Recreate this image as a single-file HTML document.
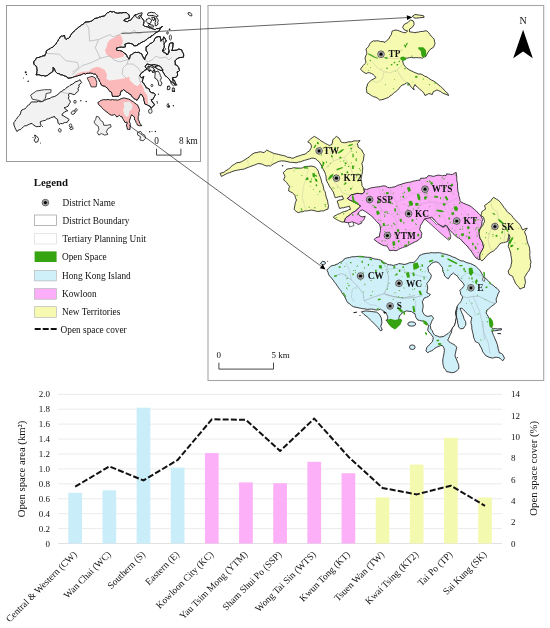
<!DOCTYPE html>
<html><head><meta charset="utf-8"><title>Open space by district</title>
<style>
html,body{margin:0;padding:0;background:#fff;}
svg{display:block;}
text{font-family:"Liberation Serif",serif;fill:#111;}
</style></head><body>
<svg width="550" height="628" viewBox="0 0 550 628">
<rect width="550" height="628" fill="#fff"/>
<g id="inset">
<rect x="6.5" y="5.5" width="194" height="156" fill="#fff" stroke="#999" stroke-width="1"/>
<path d="M36.03,74.95 L36.86,72.93 L36.8,71.7 L37.15,70.61 L36.79,68.43 L36.78,67.53 L35.94,65.8 L34.87,65.22 L33.89,64.15 L33.8,61.93 L33.93,61.07 L35.84,59.55 L36.12,58.22 L37.28,57.61 L39.04,57.46 L40.18,56.78 L41.52,56.59 L42.94,55.74 L44.84,55.86 L45.27,54.06 L46.24,53.31 L46,51.36 L47.22,50.31 L48.8,49.21 L50.06,48.64 L50.9,47.74 L52.85,47.18 L53.84,46.11 L54.73,44.94 L56.31,43.75 L56.51,42.52 L57.85,41.27 L58.34,39.67 L59.29,38.65 L60.12,36.89 L61.46,36 L62.38,36.14 L64.68,35.49 L64.63,36.44 L65.27,38.62 L66.07,39.54 L67.53,38.4 L68.55,38.29 L69.98,36.96 L70.5,35.41 L72.02,33.24 L72.68,32.42 L74.09,31.36 L75.31,30.16 L76.36,29.09 L77.16,28.55 L78.97,26.9 L80.22,26.2 L81.4,25.09 L82.9,24.38 L84.29,23.24 L85.03,22.03 L86.8,21.96 L89.11,21.75 L90.67,21.34 L91.76,20.94 L93.81,19.38 L94.78,18.51 L97.16,17.95 L97.88,17.91 L99.48,16.94 L100.66,16.98 L102.03,16.31 L103.94,16.07 L104.92,15.67 L105.82,14.24 L107.42,12.69 L108.36,12.65 L110.01,11.21 L112.11,12.07 L113.52,11.52 L115.65,12.72 L117.66,13.2 L120.18,12.79 L121.72,12.98 L123.8,12.52 L124.72,12.65 L126.39,12.58 L127.82,13.88 L129.06,14.8 L129.47,17.88 L127.47,18.36 L126.14,18.94 L125.24,18.92 L123.75,20.51 L126.38,21.54 L127.65,21.8 L128.74,20.34 L130.37,20.47 L131.7,18.76 L132.88,17.35 L133.71,16.42 L134.93,14.69 L136.6,14.92 L138.8,14.5 L140.83,13.87 L141.4,14.77 L140.7,16.83 L142.39,18.38 L142.64,18.91 L143.87,20.64 L143.97,21.58 L143.75,23.35 L143.18,25.09 L144.28,25.93 L145.48,26.47 L147.69,26.94 L148.91,27.75 L150.37,27.94 L151.24,28.29 L153.2,28.94 L154.72,29.55 L155.34,29.55 L156.62,28.46 L157.91,28.71 L159.95,28.09 L160.82,27.3 L162.58,26.48 L161.42,27.42 L159.98,28.57 L159.84,29.96 L158.93,30.96 L156.98,32.25 L156.23,32.45 L154.77,33.49 L152.78,35.39 L151.27,35.84 L150.79,37.12 L148.45,37.77 L147.11,39.24 L145.5,40.31 L144.31,41.27 L143.38,41.49 L141.25,42.58 L139.67,43.69 L138.17,43.98 L137.68,45.2 L135.95,45.75 L134.31,45.76 L133.78,45.77 L132.7,44.01 L130.82,43.62 L129.88,43.29 L127.89,43.16 L126.11,43.79 L124.81,44.25 L125.58,46.78 L124.82,47.01 L122.82,47.28 L121.44,47.09 L119.27,47.23 L117.75,47.95 L116.79,47.6 L116.23,50.04 L118.11,50.56 L119.41,50.45 L121.04,50.97 L122.98,51.77 L124.14,53.14 L125.99,54.09 L126.79,55.61 L127.05,56.7 L128.29,57.73 L129.05,59.27 L129.44,58.72 L130.05,56.69 L129.91,55.51 L132.17,54.24 L133.59,53.04 L135.31,52.28 L136.42,52.5 L138.6,52.31 L140.24,53.25 L141.69,53.78 L142.13,55.11 L143.11,56.97 L143.35,57.71 L144.76,59.81 L144.9,57.94 L145.75,56.25 L146.65,54.74 L147.86,53.02 L147.15,52.07 L145.97,50.36 L146.05,48.54 L146.13,46.76 L148.18,45.8 L149.1,44.91 L150.2,43.41 L151.76,43 L153.15,42.04 L154.09,40.86 L154.54,39.16 L155.68,37.43 L157.01,36.96 L158.91,36.52 L160.38,36.75 L160.35,37.64 L161.01,39.91 L160.86,41.27 L162.48,39.35 L163.19,38.42 L163.77,36.8 L164.87,38.16 L165.72,39.93 L166.56,41.07 L164.18,42.95 L164.02,44.7 L164.36,45.62 L164.08,47.72 L163.2,49.17 L162.46,51.03 L163.69,52.38 L165.81,53.13 L167.47,55.01 L168.71,52.34 L169.08,51.14 L168.79,49.57 L168.41,48.36 L168.77,46.38 L169.34,45.13 L169.43,43.73 L170.13,43.01 L173.06,42.82 L173,45.01 L172.82,46.8 L172.4,49.15 L171.6,50.49 L174.74,50.32 L176.83,50.11 L178.94,48.91 L180.03,49.49 L181.67,49.79 L182.2,51.53 L183.29,53.31 L183.72,54.95 L183.49,57.16 L181.07,57.47 L179.03,57.73 L177.11,58.81 L175.77,59.8 L174.85,61.06 L175.36,63.02 L175.04,64.5 L176.82,65.36 L178.1,66.46 L178.66,67.47 L179.11,69.28 L179.5,70.6 L178.63,71.43 L176.99,71.95 L177.43,73.15 L177.6,74.88 L176.85,76.58 L175.73,77.31 L174.24,77.51 L172.43,77.71 L173.14,79.64 L173.51,80.17 L174.55,82 L175.03,82.94 L175.79,84.83 L174.46,84.71 L173.28,84.03 L172.5,82.95 L170.99,81.85 L170.04,80.4 L168.93,78.81 L167.83,77.93 L167.04,76.98 L164.85,75.37 L163.97,73.56 L162.65,71.56 L162.21,70.82 L161.24,68.75 L160.18,68.53 L158.47,67.55 L157.96,66.89 L157.32,65.16 L155.36,65.92 L153.86,66.3 L152.69,65.2 L151.04,65.1 L148.91,64.41 L146.89,63.97 L144.97,66.73 L146.22,67.62 L147.01,69.34 L144.47,70.35 L143.66,71.62 L141.87,72.51 L140.73,74.06 L139.57,75.89 L141.37,77.63 L142.07,77.46 L143.91,76.54 L142.73,79.3 L142.77,80.07 L142.03,81.86 L143.49,82.94 L144.43,84.57 L145.57,86.19 L146.31,87.83 L147.66,88.21 L149.23,88.94 L149.64,90.87 L150.66,92.25 L151.89,92.77 L153.72,92.91 L155.31,94.6 L154.89,95.95 L153.79,97.56 L152.85,99.49 L151.12,99.73 L152.7,102.71 L154.01,103.56 L154.44,104.84 L152.62,106.89 L151,108.3 L150.5,106.68 L147.87,105.23 L147.52,104.96 L144.78,103.91 L144.51,101.98 L143.99,100.51 L143.86,98.01 L143.13,97.19 L142.12,95.08 L140.68,94.02 L139.7,95.58 L139.26,96.45 L138.61,97.97 L137.05,100.26 L135.31,99.18 L133.73,98.46 L133.34,97.81 L131.44,95.86 L131.14,94.74 L129.21,93.72 L127.66,92.53 L126.84,92.14 L125.29,91.05 L123.66,89.39 L122.38,90.77 L121.14,90.84 L120.16,93.59 L120.29,95.05 L118.66,96.06 L116.92,96.36 L114.7,96.31 L112.5,96.38 L112.19,94.8 L111.95,93.51 L111.42,92.15 L109.85,91.28 L108.65,90.12 L108.25,88.95 L105.8,86.99 L104.91,86.17 L102.87,85.83 L100.94,84.53 L100.49,82.53 L99.6,81.51 L98.88,79.17 L97.32,77.59 L97.2,75.94 L96.03,74.58 L95.37,73.98 L93.4,73.93 L92.71,73.46 L90.2,72.92 L88.5,73.26 L86.93,73.24 L85.73,74.06 L83.88,73.4 L82.33,74.17 L81.04,74.87 L79.26,75.28 L77.34,75.9 L76,76.09 L73.69,76.97 L72.42,77.5 L70.2,77.97 L67.84,78.21 L67.08,76.91 L65.36,76.15 L64.03,75.75 L62.57,74.96 L60.58,74.78 L59.13,73.63 L57.5,73.48 L56.55,72.61 L55.63,71.87 L54.95,70.46 L54.49,68.97 L53.13,67.32 L53.13,69.84 L52.88,71.6 L51.7,72.06 L50.74,73.14 L48.84,74.06 L48.05,75.23 L45.87,75.95 L44.75,76.1 L43.34,75.45 L41.21,75.73 L39.22,74.8 L38.08,74.67Z" fill="#f2f2f2" stroke="#1a1a1a" stroke-width="1.0" stroke-linejoin="round" />
<clipPath id="mainclip"><path d="M36.03,74.95 L36.86,72.93 L36.8,71.7 L37.15,70.61 L36.79,68.43 L36.78,67.53 L35.94,65.8 L34.87,65.22 L33.89,64.15 L33.8,61.93 L33.93,61.07 L35.84,59.55 L36.12,58.22 L37.28,57.61 L39.04,57.46 L40.18,56.78 L41.52,56.59 L42.94,55.74 L44.84,55.86 L45.27,54.06 L46.24,53.31 L46,51.36 L47.22,50.31 L48.8,49.21 L50.06,48.64 L50.9,47.74 L52.85,47.18 L53.84,46.11 L54.73,44.94 L56.31,43.75 L56.51,42.52 L57.85,41.27 L58.34,39.67 L59.29,38.65 L60.12,36.89 L61.46,36 L62.38,36.14 L64.68,35.49 L64.63,36.44 L65.27,38.62 L66.07,39.54 L67.53,38.4 L68.55,38.29 L69.98,36.96 L70.5,35.41 L72.02,33.24 L72.68,32.42 L74.09,31.36 L75.31,30.16 L76.36,29.09 L77.16,28.55 L78.97,26.9 L80.22,26.2 L81.4,25.09 L82.9,24.38 L84.29,23.24 L85.03,22.03 L86.8,21.96 L89.11,21.75 L90.67,21.34 L91.76,20.94 L93.81,19.38 L94.78,18.51 L97.16,17.95 L97.88,17.91 L99.48,16.94 L100.66,16.98 L102.03,16.31 L103.94,16.07 L104.92,15.67 L105.82,14.24 L107.42,12.69 L108.36,12.65 L110.01,11.21 L112.11,12.07 L113.52,11.52 L115.65,12.72 L117.66,13.2 L120.18,12.79 L121.72,12.98 L123.8,12.52 L124.72,12.65 L126.39,12.58 L127.82,13.88 L129.06,14.8 L129.47,17.88 L127.47,18.36 L126.14,18.94 L125.24,18.92 L123.75,20.51 L126.38,21.54 L127.65,21.8 L128.74,20.34 L130.37,20.47 L131.7,18.76 L132.88,17.35 L133.71,16.42 L134.93,14.69 L136.6,14.92 L138.8,14.5 L140.83,13.87 L141.4,14.77 L140.7,16.83 L142.39,18.38 L142.64,18.91 L143.87,20.64 L143.97,21.58 L143.75,23.35 L143.18,25.09 L144.28,25.93 L145.48,26.47 L147.69,26.94 L148.91,27.75 L150.37,27.94 L151.24,28.29 L153.2,28.94 L154.72,29.55 L155.34,29.55 L156.62,28.46 L157.91,28.71 L159.95,28.09 L160.82,27.3 L162.58,26.48 L161.42,27.42 L159.98,28.57 L159.84,29.96 L158.93,30.96 L156.98,32.25 L156.23,32.45 L154.77,33.49 L152.78,35.39 L151.27,35.84 L150.79,37.12 L148.45,37.77 L147.11,39.24 L145.5,40.31 L144.31,41.27 L143.38,41.49 L141.25,42.58 L139.67,43.69 L138.17,43.98 L137.68,45.2 L135.95,45.75 L134.31,45.76 L133.78,45.77 L132.7,44.01 L130.82,43.62 L129.88,43.29 L127.89,43.16 L126.11,43.79 L124.81,44.25 L125.58,46.78 L124.82,47.01 L122.82,47.28 L121.44,47.09 L119.27,47.23 L117.75,47.95 L116.79,47.6 L116.23,50.04 L118.11,50.56 L119.41,50.45 L121.04,50.97 L122.98,51.77 L124.14,53.14 L125.99,54.09 L126.79,55.61 L127.05,56.7 L128.29,57.73 L129.05,59.27 L129.44,58.72 L130.05,56.69 L129.91,55.51 L132.17,54.24 L133.59,53.04 L135.31,52.28 L136.42,52.5 L138.6,52.31 L140.24,53.25 L141.69,53.78 L142.13,55.11 L143.11,56.97 L143.35,57.71 L144.76,59.81 L144.9,57.94 L145.75,56.25 L146.65,54.74 L147.86,53.02 L147.15,52.07 L145.97,50.36 L146.05,48.54 L146.13,46.76 L148.18,45.8 L149.1,44.91 L150.2,43.41 L151.76,43 L153.15,42.04 L154.09,40.86 L154.54,39.16 L155.68,37.43 L157.01,36.96 L158.91,36.52 L160.38,36.75 L160.35,37.64 L161.01,39.91 L160.86,41.27 L162.48,39.35 L163.19,38.42 L163.77,36.8 L164.87,38.16 L165.72,39.93 L166.56,41.07 L164.18,42.95 L164.02,44.7 L164.36,45.62 L164.08,47.72 L163.2,49.17 L162.46,51.03 L163.69,52.38 L165.81,53.13 L167.47,55.01 L168.71,52.34 L169.08,51.14 L168.79,49.57 L168.41,48.36 L168.77,46.38 L169.34,45.13 L169.43,43.73 L170.13,43.01 L173.06,42.82 L173,45.01 L172.82,46.8 L172.4,49.15 L171.6,50.49 L174.74,50.32 L176.83,50.11 L178.94,48.91 L180.03,49.49 L181.67,49.79 L182.2,51.53 L183.29,53.31 L183.72,54.95 L183.49,57.16 L181.07,57.47 L179.03,57.73 L177.11,58.81 L175.77,59.8 L174.85,61.06 L175.36,63.02 L175.04,64.5 L176.82,65.36 L178.1,66.46 L178.66,67.47 L179.11,69.28 L179.5,70.6 L178.63,71.43 L176.99,71.95 L177.43,73.15 L177.6,74.88 L176.85,76.58 L175.73,77.31 L174.24,77.51 L172.43,77.71 L173.14,79.64 L173.51,80.17 L174.55,82 L175.03,82.94 L175.79,84.83 L174.46,84.71 L173.28,84.03 L172.5,82.95 L170.99,81.85 L170.04,80.4 L168.93,78.81 L167.83,77.93 L167.04,76.98 L164.85,75.37 L163.97,73.56 L162.65,71.56 L162.21,70.82 L161.24,68.75 L160.18,68.53 L158.47,67.55 L157.96,66.89 L157.32,65.16 L155.36,65.92 L153.86,66.3 L152.69,65.2 L151.04,65.1 L148.91,64.41 L146.89,63.97 L144.97,66.73 L146.22,67.62 L147.01,69.34 L144.47,70.35 L143.66,71.62 L141.87,72.51 L140.73,74.06 L139.57,75.89 L141.37,77.63 L142.07,77.46 L143.91,76.54 L142.73,79.3 L142.77,80.07 L142.03,81.86 L143.49,82.94 L144.43,84.57 L145.57,86.19 L146.31,87.83 L147.66,88.21 L149.23,88.94 L149.64,90.87 L150.66,92.25 L151.89,92.77 L153.72,92.91 L155.31,94.6 L154.89,95.95 L153.79,97.56 L152.85,99.49 L151.12,99.73 L152.7,102.71 L154.01,103.56 L154.44,104.84 L152.62,106.89 L151,108.3 L150.5,106.68 L147.87,105.23 L147.52,104.96 L144.78,103.91 L144.51,101.98 L143.99,100.51 L143.86,98.01 L143.13,97.19 L142.12,95.08 L140.68,94.02 L139.7,95.58 L139.26,96.45 L138.61,97.97 L137.05,100.26 L135.31,99.18 L133.73,98.46 L133.34,97.81 L131.44,95.86 L131.14,94.74 L129.21,93.72 L127.66,92.53 L126.84,92.14 L125.29,91.05 L123.66,89.39 L122.38,90.77 L121.14,90.84 L120.16,93.59 L120.29,95.05 L118.66,96.06 L116.92,96.36 L114.7,96.31 L112.5,96.38 L112.19,94.8 L111.95,93.51 L111.42,92.15 L109.85,91.28 L108.65,90.12 L108.25,88.95 L105.8,86.99 L104.91,86.17 L102.87,85.83 L100.94,84.53 L100.49,82.53 L99.6,81.51 L98.88,79.17 L97.32,77.59 L97.2,75.94 L96.03,74.58 L95.37,73.98 L93.4,73.93 L92.71,73.46 L90.2,72.92 L88.5,73.26 L86.93,73.24 L85.73,74.06 L83.88,73.4 L82.33,74.17 L81.04,74.87 L79.26,75.28 L77.34,75.9 L76,76.09 L73.69,76.97 L72.42,77.5 L70.2,77.97 L67.84,78.21 L67.08,76.91 L65.36,76.15 L64.03,75.75 L62.57,74.96 L60.58,74.78 L59.13,73.63 L57.5,73.48 L56.55,72.61 L55.63,71.87 L54.95,70.46 L54.49,68.97 L53.13,67.32 L53.13,69.84 L52.88,71.6 L51.7,72.06 L50.74,73.14 L48.84,74.06 L48.05,75.23 L45.87,75.95 L44.75,76.1 L43.34,75.45 L41.21,75.73 L39.22,74.8 L38.08,74.67Z"/></clipPath>
<path d="M72.4,77.9 L77.3,73.5 L82.2,71.8 L88.7,71.4 L92,68.5 L96.9,66.8 L100,67.4 L104.6,69.8 L107.1,74.7 L106.3,78.8 L109.5,80.5 L117.7,79.6 L125.9,78 L129.2,76.4 L130,80.5 L134.1,84.5 L137.4,86.2 L140.6,82.9 L143.1,87 L144.7,91.9 L147.2,95.2 L148,100.9 L148.2,105.5 L149,108 L140,106 L136,101 L128,97 L122,92 L120,97 L112,98 L109,92 L100,86 L96,80 L92,75 L83,75 L72.4,79.5Z" fill="#fbb9b9" stroke="none" clip-path="url(#mainclip)"/>
<path d="M107.4,43.2 L109.8,39.8 L114.7,37.5 L118,35 L120.5,34.8 L121.8,37.5 L122.9,40.7 L122.5,43.5 L121,46.2 L116.4,47.3 L116.4,49.7 L121.3,51.4 L124.5,54.6 L122.9,57.1 L118,57.9 L113.9,58.7 L109.8,57.1 L106.5,54.6 L104.9,50.5 L106.5,47.3Z" fill="#fbb9b9" stroke="none" clip-path="url(#mainclip)"/>
<path d="M85.5,23.1 L88.7,28 L89.6,41.1 L98.6,39.5 L110,34.5" fill="none" stroke="#adadad" stroke-width="0.65" stroke-linejoin="round" />
<path d="M47,53.4 L59.3,54.2 L65.8,60.7 L77.3,62.4 L78.9,67.3 L72.4,72.2" fill="none" stroke="#adadad" stroke-width="0.65" stroke-linejoin="round" />
<path d="M72.4,74.6 L82.2,65.6 L92,62.4 L100.2,58.3 L110,55.8" fill="none" stroke="#adadad" stroke-width="0.65" stroke-linejoin="round" />
<path d="M98.6,39.5 L95.3,47.6 L100.2,58.3" fill="none" stroke="#adadad" stroke-width="0.65" stroke-linejoin="round" />
<path d="M110,55.8 L114,60 L120,62 L126,60 L128.6,59.6" fill="none" stroke="#adadad" stroke-width="0.65" stroke-linejoin="round" />
<path d="M110,34.6 L113,37 L118,35 L124,32 L130,34 L134,30 L137,33.5 L142,33" fill="none" stroke="#adadad" stroke-width="0.65" stroke-linejoin="round" />
<path d="M128.6,59.6 L127,64 L123,68 L122,74 L125.9,78" fill="none" stroke="#adadad" stroke-width="0.65" stroke-linejoin="round" />
<path d="M144.1,58.9 L147,62 L152,60 L156,56 L160,58 L166,57 L169,60 L172,57" fill="none" stroke="#adadad" stroke-width="0.65" stroke-linejoin="round" />
<path d="M140.6,82.9 L139,78 L139.3,76.4" fill="none" stroke="#adadad" stroke-width="0.65" stroke-linejoin="round" />
<path d="M127,64 L133,64 L138,68 L141.4,73" fill="none" stroke="#adadad" stroke-width="0.65" stroke-linejoin="round" />
<path d="M36.03,74.95 L36.86,72.93 L36.8,71.7 L37.15,70.61 L36.79,68.43 L36.78,67.53 L35.94,65.8 L34.87,65.22 L33.89,64.15 L33.8,61.93 L33.93,61.07 L35.84,59.55 L36.12,58.22 L37.28,57.61 L39.04,57.46 L40.18,56.78 L41.52,56.59 L42.94,55.74 L44.84,55.86 L45.27,54.06 L46.24,53.31 L46,51.36 L47.22,50.31 L48.8,49.21 L50.06,48.64 L50.9,47.74 L52.85,47.18 L53.84,46.11 L54.73,44.94 L56.31,43.75 L56.51,42.52 L57.85,41.27 L58.34,39.67 L59.29,38.65 L60.12,36.89 L61.46,36 L62.38,36.14 L64.68,35.49 L64.63,36.44 L65.27,38.62 L66.07,39.54 L67.53,38.4 L68.55,38.29 L69.98,36.96 L70.5,35.41 L72.02,33.24 L72.68,32.42 L74.09,31.36 L75.31,30.16 L76.36,29.09 L77.16,28.55 L78.97,26.9 L80.22,26.2 L81.4,25.09 L82.9,24.38 L84.29,23.24 L85.03,22.03 L86.8,21.96 L89.11,21.75 L90.67,21.34 L91.76,20.94 L93.81,19.38 L94.78,18.51 L97.16,17.95 L97.88,17.91 L99.48,16.94 L100.66,16.98 L102.03,16.31 L103.94,16.07 L104.92,15.67 L105.82,14.24 L107.42,12.69 L108.36,12.65 L110.01,11.21 L112.11,12.07 L113.52,11.52 L115.65,12.72 L117.66,13.2 L120.18,12.79 L121.72,12.98 L123.8,12.52 L124.72,12.65 L126.39,12.58 L127.82,13.88 L129.06,14.8 L129.47,17.88 L127.47,18.36 L126.14,18.94 L125.24,18.92 L123.75,20.51 L126.38,21.54 L127.65,21.8 L128.74,20.34 L130.37,20.47 L131.7,18.76 L132.88,17.35 L133.71,16.42 L134.93,14.69 L136.6,14.92 L138.8,14.5 L140.83,13.87 L141.4,14.77 L140.7,16.83 L142.39,18.38 L142.64,18.91 L143.87,20.64 L143.97,21.58 L143.75,23.35 L143.18,25.09 L144.28,25.93 L145.48,26.47 L147.69,26.94 L148.91,27.75 L150.37,27.94 L151.24,28.29 L153.2,28.94 L154.72,29.55 L155.34,29.55 L156.62,28.46 L157.91,28.71 L159.95,28.09 L160.82,27.3 L162.58,26.48 L161.42,27.42 L159.98,28.57 L159.84,29.96 L158.93,30.96 L156.98,32.25 L156.23,32.45 L154.77,33.49 L152.78,35.39 L151.27,35.84 L150.79,37.12 L148.45,37.77 L147.11,39.24 L145.5,40.31 L144.31,41.27 L143.38,41.49 L141.25,42.58 L139.67,43.69 L138.17,43.98 L137.68,45.2 L135.95,45.75 L134.31,45.76 L133.78,45.77 L132.7,44.01 L130.82,43.62 L129.88,43.29 L127.89,43.16 L126.11,43.79 L124.81,44.25 L125.58,46.78 L124.82,47.01 L122.82,47.28 L121.44,47.09 L119.27,47.23 L117.75,47.95 L116.79,47.6 L116.23,50.04 L118.11,50.56 L119.41,50.45 L121.04,50.97 L122.98,51.77 L124.14,53.14 L125.99,54.09 L126.79,55.61 L127.05,56.7 L128.29,57.73 L129.05,59.27 L129.44,58.72 L130.05,56.69 L129.91,55.51 L132.17,54.24 L133.59,53.04 L135.31,52.28 L136.42,52.5 L138.6,52.31 L140.24,53.25 L141.69,53.78 L142.13,55.11 L143.11,56.97 L143.35,57.71 L144.76,59.81 L144.9,57.94 L145.75,56.25 L146.65,54.74 L147.86,53.02 L147.15,52.07 L145.97,50.36 L146.05,48.54 L146.13,46.76 L148.18,45.8 L149.1,44.91 L150.2,43.41 L151.76,43 L153.15,42.04 L154.09,40.86 L154.54,39.16 L155.68,37.43 L157.01,36.96 L158.91,36.52 L160.38,36.75 L160.35,37.64 L161.01,39.91 L160.86,41.27 L162.48,39.35 L163.19,38.42 L163.77,36.8 L164.87,38.16 L165.72,39.93 L166.56,41.07 L164.18,42.95 L164.02,44.7 L164.36,45.62 L164.08,47.72 L163.2,49.17 L162.46,51.03 L163.69,52.38 L165.81,53.13 L167.47,55.01 L168.71,52.34 L169.08,51.14 L168.79,49.57 L168.41,48.36 L168.77,46.38 L169.34,45.13 L169.43,43.73 L170.13,43.01 L173.06,42.82 L173,45.01 L172.82,46.8 L172.4,49.15 L171.6,50.49 L174.74,50.32 L176.83,50.11 L178.94,48.91 L180.03,49.49 L181.67,49.79 L182.2,51.53 L183.29,53.31 L183.72,54.95 L183.49,57.16 L181.07,57.47 L179.03,57.73 L177.11,58.81 L175.77,59.8 L174.85,61.06 L175.36,63.02 L175.04,64.5 L176.82,65.36 L178.1,66.46 L178.66,67.47 L179.11,69.28 L179.5,70.6 L178.63,71.43 L176.99,71.95 L177.43,73.15 L177.6,74.88 L176.85,76.58 L175.73,77.31 L174.24,77.51 L172.43,77.71 L173.14,79.64 L173.51,80.17 L174.55,82 L175.03,82.94 L175.79,84.83 L174.46,84.71 L173.28,84.03 L172.5,82.95 L170.99,81.85 L170.04,80.4 L168.93,78.81 L167.83,77.93 L167.04,76.98 L164.85,75.37 L163.97,73.56 L162.65,71.56 L162.21,70.82 L161.24,68.75 L160.18,68.53 L158.47,67.55 L157.96,66.89 L157.32,65.16 L155.36,65.92 L153.86,66.3 L152.69,65.2 L151.04,65.1 L148.91,64.41 L146.89,63.97 L144.97,66.73 L146.22,67.62 L147.01,69.34 L144.47,70.35 L143.66,71.62 L141.87,72.51 L140.73,74.06 L139.57,75.89 L141.37,77.63 L142.07,77.46 L143.91,76.54 L142.73,79.3 L142.77,80.07 L142.03,81.86 L143.49,82.94 L144.43,84.57 L145.57,86.19 L146.31,87.83 L147.66,88.21 L149.23,88.94 L149.64,90.87 L150.66,92.25 L151.89,92.77 L153.72,92.91 L155.31,94.6 L154.89,95.95 L153.79,97.56 L152.85,99.49 L151.12,99.73 L152.7,102.71 L154.01,103.56 L154.44,104.84 L152.62,106.89 L151,108.3 L150.5,106.68 L147.87,105.23 L147.52,104.96 L144.78,103.91 L144.51,101.98 L143.99,100.51 L143.86,98.01 L143.13,97.19 L142.12,95.08 L140.68,94.02 L139.7,95.58 L139.26,96.45 L138.61,97.97 L137.05,100.26 L135.31,99.18 L133.73,98.46 L133.34,97.81 L131.44,95.86 L131.14,94.74 L129.21,93.72 L127.66,92.53 L126.84,92.14 L125.29,91.05 L123.66,89.39 L122.38,90.77 L121.14,90.84 L120.16,93.59 L120.29,95.05 L118.66,96.06 L116.92,96.36 L114.7,96.31 L112.5,96.38 L112.19,94.8 L111.95,93.51 L111.42,92.15 L109.85,91.28 L108.65,90.12 L108.25,88.95 L105.8,86.99 L104.91,86.17 L102.87,85.83 L100.94,84.53 L100.49,82.53 L99.6,81.51 L98.88,79.17 L97.32,77.59 L97.2,75.94 L96.03,74.58 L95.37,73.98 L93.4,73.93 L92.71,73.46 L90.2,72.92 L88.5,73.26 L86.93,73.24 L85.73,74.06 L83.88,73.4 L82.33,74.17 L81.04,74.87 L79.26,75.28 L77.34,75.9 L76,76.09 L73.69,76.97 L72.42,77.5 L70.2,77.97 L67.84,78.21 L67.08,76.91 L65.36,76.15 L64.03,75.75 L62.57,74.96 L60.58,74.78 L59.13,73.63 L57.5,73.48 L56.55,72.61 L55.63,71.87 L54.95,70.46 L54.49,68.97 L53.13,67.32 L53.13,69.84 L52.88,71.6 L51.7,72.06 L50.74,73.14 L48.84,74.06 L48.05,75.23 L45.87,75.95 L44.75,76.1 L43.34,75.45 L41.21,75.73 L39.22,74.8 L38.08,74.67Z" fill="none" stroke="#1a1a1a" stroke-width="1.0" stroke-linejoin="round"/>
<path d="M148.42,12.75 L149.96,12.67 L151.21,12.21 L153.16,12.76 L154.33,12.57 L155.63,13.6 L156.48,14.41 L158.26,15.86 L156.07,16.85 L155.53,16.34 L154.04,16.04 L153.24,15.39 L151.02,15.71 L149.33,15.58 L148.35,15.5 L147.33,14.95Z" fill="#f2f2f2" stroke="#1a1a1a" stroke-width="1.0" stroke-linejoin="round" />
<path d="M156.03,17.65 L157.31,18.33 L157.87,19.43 L158.3,20.43 L158,21.44 L157.55,22.77 L157.97,23.76 L157.34,24.99 L156.09,25.93 L155,25.39 L155.27,24.03 L154.96,22.53 L155.7,21.09 L155.81,19.89 L154.92,18.85Z" fill="#f2f2f2" stroke="#1a1a1a" stroke-width="1.0" stroke-linejoin="round" />
<path d="M146.87,18.91 L147.47,19.05 L148.95,17.8 L150.42,19.08 L151.71,20.09 L151.22,21.51 L150.38,23.35 L149.05,23.59 L147.67,23.14 L147.01,22.52 L145.75,21.15Z" fill="#f2f2f2" stroke="#1a1a1a" stroke-width="1.0" stroke-linejoin="round" />
<path d="M148.44,24.96 L149.88,24.47 L151.11,24.94 L152.52,24.9 L153.85,26.76 L152.53,27.06 L151.02,27.07 L150.17,26.79 L148.61,26.49Z" fill="#f2f2f2" stroke="#1a1a1a" stroke-width="1.0" stroke-linejoin="round" />
<path d="M135.17,15.67 L135.85,15.23 L136.96,14.4 L137.97,13.91 L139.29,13.43 L141.01,13.05 L142.05,12.69 L142.19,13.29 L141.51,15.17 L140.34,15.31 L138.64,16.26 L139.02,17.46 L140.17,18.33 L138.41,18.19 L137.23,17.99 L136.41,17.09Z" fill="#f2f2f2" stroke="#1a1a1a" stroke-width="1.0" stroke-linejoin="round" />
<path d="M151.8,17.34 L154.37,17.27 L154.55,19.01 L154.03,20.66 L152.3,19.54 L152.14,18.42Z" fill="#f2f2f2" stroke="#1a1a1a" stroke-width="1.0" stroke-linejoin="round" />
<path d="M151.37,65.56 L152.42,64.7 L154.42,64.52 L155.19,64.74 L157.07,65.26 L157.32,66.68 L158.24,67.6 L156.38,67.97 L155.22,67.37 L153.57,66.93 L152.78,66Z" fill="#f2f2f2" stroke="#1a1a1a" stroke-width="1.1" stroke-linejoin="round" />
<path d="M155.12,66.21 L156.62,66.14 L158.55,65.43 L159.89,66.32 L161.36,67.55 L162.2,68.96 L163.04,70.16 L160.36,70.45 L159.41,69.67 L158.01,69.18 L156.69,68.4 L155.77,67.56Z" fill="#f2f2f2" stroke="#1a1a1a" stroke-width="1.1" stroke-linejoin="round" />
<path d="M148.2,66.07 L150.14,67.01 L151.02,68.52 L151.67,69.31 L150.5,70.12 L149.5,71.3 L148.47,70.24 L148,69.63 L147.8,68.06Z" fill="#f2f2f2" stroke="#1a1a1a" stroke-width="1.1" stroke-linejoin="round" />
<path d="M151.58,69.74 L153.85,69.37 L154.77,70.81 L155.17,71.8 L152.66,72.35 L152.36,71.25Z" fill="#f2f2f2" stroke="#1a1a1a" stroke-width="1.1" stroke-linejoin="round" />
<path d="M172.54,79.53 L173.95,80.07 L174.61,80.77 L175.1,82.02 L175.69,83.64 L176.84,85.04 L174.71,84.63 L174.13,83.33 L172.9,82.44 L172.98,80.58Z" fill="#f2f2f2" stroke="#1a1a1a" stroke-width="1.1" stroke-linejoin="round" />
<path d="M167.54,86.49 L169.11,86.09 L169.25,87.41 L169.55,89.03 L167.77,89.67 L167.48,88.09Z" fill="#f2f2f2" stroke="#1a1a1a" stroke-width="1.1" stroke-linejoin="round" />
<path d="M172.87,88.13 L174.16,88.25 L174.11,89.61 L174.56,91.51 L172.37,91.2 L172.52,90.08Z" fill="#f2f2f2" stroke="#1a1a1a" stroke-width="1.1" stroke-linejoin="round" />
<path d="M155.18,71.94 L158.05,70.98 L159.66,73.39 L160.45,75.68 L161.37,77.39 L160.95,79.05 L160.28,80.45 L162,83.07 L160.8,85.79 L158.62,85.07 L158.35,82.11 L157.11,79.57 L154.8,78.17 L154.91,75.78 L155.04,74.9Z" fill="#f2f2f2" stroke="#1a1a1a" stroke-width="0.9" stroke-linejoin="round" />
<path d="M150.08,66.57 L153.17,67.81 L154.32,69.96 L152.18,71.55 L150.51,69.87 L148.63,68.24Z" fill="#f2f2f2" stroke="#1a1a1a" stroke-width="0.9" stroke-linejoin="round" />
<path d="M170.65,81.78 L173.34,83.1 L174.59,84.68 L173.41,85.64 L171.32,83.97Z" fill="#f2f2f2" stroke="#1a1a1a" stroke-width="0.9" stroke-linejoin="round" />
<path d="M87.1,77.9 L92,76.3 L95.3,77.9 L96.9,82.8 L96.1,86.9 L91.2,86.9 L89.6,82.8Z" fill="#fbb9b9" stroke="#1a1a1a" stroke-width="0.8" stroke-linejoin="round" />
<path d="M14.16,125.75 L13.66,122.83 L14.84,121.44 L15.69,119.78 L16.66,118.86 L17.66,117.18 L18.53,116.19 L19.66,115.16 L20.72,113.08 L21.04,111.17 L21.94,109.95 L23.66,109.26 L24.88,108.85 L26.33,107.54 L27.34,106.02 L28.4,104.91 L29.56,104.55 L30.7,102.51 L31.89,101.9 L33.37,102.01 L35.03,101.89 L36.25,102.08 L38.5,101.26 L39.92,101.82 L41.26,101.63 L42.92,101.22 L44.57,100.33 L46.05,99.58 L47.97,98.74 L49,98.79 L50.52,97.94 L51.39,97.36 L53.23,96.78 L54.81,96.47 L56.11,95.53 L57.46,94.95 L58.3,93.78 L59.75,92.87 L60.71,91.51 L62.08,91.42 L63.37,89.75 L64.73,89.58 L65.99,88.23 L67,87.29 L68.08,86.69 L68.83,86.48 L70.01,85.3 L72.05,84.2 L72.71,84.02 L74.22,83.04 L75.13,81.86 L76.91,81.34 L78.45,80.79 L80.03,79.73 L80.47,80.91 L81.71,82.46 L79.83,84.24 L78.79,84.84 L79.19,86.58 L78.04,88.39 L78.42,90.42 L77.71,91.64 L76.26,92.58 L75.63,93.71 L74.4,94.56 L72.73,94.24 L70.71,93.49 L69.26,93.32 L68.44,95.08 L68.94,96.39 L68.38,98.29 L68.95,99.38 L70.03,100.83 L70.31,102.32 L69.18,103.82 L68.77,104.69 L68.13,106.16 L66.53,106.9 L65.27,107.52 L64.03,107.79 L64.7,108.31 L66.08,109.52 L67.82,110.8 L66.31,111.11 L64.42,112.23 L62.75,113.39 L61.91,115.11 L63.87,116.04 L64.9,116.78 L66.4,117.62 L68.05,118.66 L69.21,119.64 L67.86,121.16 L67.36,122.23 L65.47,122.54 L64.25,122.62 L62.72,123.63 L60.43,123.64 L59,124.37 L58.19,123.25 L57.74,120.96 L57.58,119.37 L55.37,118.09 L54.2,116.11 L53.52,117.07 L51.27,117.45 L50.24,118.09 L48.61,118.79 L46.84,119.05 L45.51,120.27 L43.58,120.65 L42.33,121 L41.16,121.43 L40.15,121.9 L40.37,123.27 L41.18,125.65 L40.09,126.56 L38.49,126.42 L36.81,126.78 L35.22,126.1 L33.21,124.81 L32,123.37 L29.68,124.03 L28.05,124.8 L26.67,125.64 L24.66,125.83 L23.49,126.66 L21.83,128.33 L20.72,129.49 L18.97,129.8 L16.86,131.5 L15.82,129.49 L14.92,127.74 L14.92,127.21Z" fill="#f2f2f2" stroke="#1a1a1a" stroke-width="1.0" stroke-linejoin="round" />
<path d="M30.6,95.1 L36.4,91 L44.5,89.7 L51.1,89.7 L50.8,92.6 L46.2,93.5 L45.4,98.4 L42.1,101.6 L38.8,100.5 L32.3,99.2Z" fill="#f2f2f2" stroke="#1a1a1a" stroke-width="0.8" stroke-linejoin="round" />
<path d="M60.9,91.8 L66,93.2 L69.1,93.5" fill="none" stroke="#adadad" stroke-width="0.65" stroke-linejoin="round" />
<path d="M97.89,102.44 L99.36,101.65 L100.93,100.39 L101.81,100.17 L103.47,99.63 L105.52,99.76 L106.85,99.7 L108.15,99.38 L109.61,99.89 L111,99.91 L112.6,99.49 L114.15,100.03 L115.26,99.7 L117.19,100.18 L118.5,99.93 L119.92,99.39 L121.09,98.72 L122.56,98.25 L124.35,97.88 L125.21,98.27 L127.32,98.75 L128.5,98.94 L130.04,99.81 L131.55,100.77 L133.37,101.82 L134.81,103.04 L136.32,104.29 L137.54,104.83 L138.32,107.01 L138.99,108.22 L139.47,109.47 L139.37,111.39 L138.73,112.62 L138.98,114.99 L138.2,116.47 L138.3,117.59 L138.04,119.72 L139.03,120.5 L139.36,121.87 L139.97,123.46 L141.8,125.68 L139.45,125.7 L137.25,124.96 L136.91,123.56 L136.02,122.49 L135.79,120.92 L134.8,120.13 L134.48,118.83 L134.42,117 L132.82,115.87 L131.72,114.68 L130.85,116.35 L130.35,117.91 L129.69,120.13 L129.29,121.84 L130.22,123.38 L130.21,124.34 L130.43,126.16 L129.87,127.99 L130.11,129.35 L128.7,129.52 L127.34,129.28 L127.12,127.54 L126.32,124.95 L127.09,124.02 L127,121.97 L125.17,122.66 L124.19,121 L123.4,119.58 L122.49,118.2 L122.02,116.72 L120.66,116.49 L119.25,115.28 L118.39,116.09 L116.65,117.05 L115.86,115.53 L114.36,114.47 L113.12,115 L111.48,115.24 L109.42,114.37 L108.21,112.96 L106.03,111.45 L104.62,110.25 L103.78,109.7 L102.21,108.19 L101.65,107.41 L100.4,105.93 L98.6,104.63Z" fill="#fbb9b9" stroke="#1a1a1a" stroke-width="1.0" stroke-linejoin="round" />
<path d="M123.5,102.4 L129.2,101.5 L132.5,104.8 L132.1,108.9 L129.2,111.4 L128.9,115.5 L126.7,117.1 L124.3,114.6 L123,110.5 L124.3,106.5Z" fill="#ececec"/>
<path d="M96.5,116.3 L98.9,117.1 L100.5,120.4 L103,122 L103.8,125.3 L107.1,125.3 L110.4,124.5 L111.2,126.9 L107.9,128.6 L106.3,131.8 L107.9,134.3 L104.6,135.1 L101.4,133.5 L98.9,135.1 L97.3,132.6 L98.9,129.4 L98.1,126.1 L95.6,124.5 L94,122 L95.6,119.5Z" fill="#f2f2f2" stroke="#1a1a1a" stroke-width="0.8" stroke-linejoin="round" />
<path d="M137.4,132.6 L140.6,131.3 L142.3,134 L144.7,135.1 L145.6,138.4 L143.1,140.8 L139.8,140 L140.6,136.7 L137.7,135.1Z" fill="#f2f2f2" stroke="#1a1a1a" stroke-width="0.8" stroke-linejoin="round" />
<circle cx="25.7" cy="72.2" r="1.0" fill="#1a1a1a"/>
<circle cx="26.5" cy="74.5" r="0.7" fill="#1a1a1a"/>
<circle cx="28.2" cy="81.2" r="0.8" fill="#1a1a1a"/>
<circle cx="23.5" cy="78" r="0.5" fill="#1a1a1a"/>
<ellipse cx="75" cy="101.8" rx="1.2" ry="1.5" fill="#f2f2f2" stroke="#1a1a1a" stroke-width="0.8" transform="rotate(0 75 101.8)"/>
<circle cx="80.8" cy="100.7" r="0.7" fill="#1a1a1a"/>
<circle cx="86.2" cy="101.5" r="0.7" fill="#1a1a1a"/>
<ellipse cx="73.2" cy="112.6" rx="2.2" ry="1.6" fill="#f2f2f2" stroke="#1a1a1a" stroke-width="0.8" transform="rotate(-30 73.2 112.6)"/>
<ellipse cx="76" cy="110" rx="1.0" ry="1.4" fill="#f2f2f2" stroke="#1a1a1a" stroke-width="0.8" transform="rotate(20 76 110)"/>
<ellipse cx="70.5" cy="125.5" rx="1.3" ry="1.6" fill="#f2f2f2" stroke="#1a1a1a" stroke-width="0.8" transform="rotate(0 70.5 125.5)"/>
<ellipse cx="71.5" cy="128.3" rx="1.8" ry="1.2" fill="#f2f2f2" stroke="#1a1a1a" stroke-width="0.8" transform="rotate(-20 71.5 128.3)"/>
<ellipse cx="59.8" cy="130.3" rx="1.3" ry="1.8" fill="#f2f2f2" stroke="#1a1a1a" stroke-width="0.8" transform="rotate(-20 59.8 130.3)"/>
<path d="M34.5,135 L36.5,136 L38.5,138.5 L38,141.5 L35.5,142.5 L34,140 L35.5,138Z" fill="#f2f2f2" stroke="#1a1a1a" stroke-width="0.9" stroke-linejoin="round" />
<circle cx="40.5" cy="143" r="0.5" fill="#1a1a1a"/>
<circle cx="33" cy="137.5" r="0.6" fill="#1a1a1a"/>
<ellipse cx="151.9" cy="85.5" rx="1.0" ry="1.2" fill="#f2f2f2" stroke="#1a1a1a" stroke-width="0.8" transform="rotate(0 151.9 85.5)"/>
<circle cx="158.5" cy="94.2" r="0.6" fill="#1a1a1a"/>
<circle cx="157.4" cy="102.9" r="0.7" fill="#1a1a1a"/>
<ellipse cx="168.7" cy="88" rx="1.2" ry="1.8" fill="#f2f2f2" stroke="#1a1a1a" stroke-width="0.8" transform="rotate(30 168.7 88)"/>
<ellipse cx="173.2" cy="89.6" rx="1.0" ry="1.6" fill="#f2f2f2" stroke="#1a1a1a" stroke-width="0.8" transform="rotate(0 173.2 89.6)"/>
<circle cx="168.7" cy="106.4" r="1.3" fill="#1a1a1a"/>
<circle cx="168.2" cy="104" r="0.8" fill="#1a1a1a"/>
<circle cx="173.4" cy="105.7" r="0.7" fill="#1a1a1a"/>
<ellipse cx="150.3" cy="111.2" rx="1.8" ry="2.2" fill="#f2f2f2" stroke="#1a1a1a" stroke-width="0.8" transform="rotate(0 150.3 111.2)"/>
<circle cx="149.6" cy="131.8" r="0.7" fill="#1a1a1a"/>
<circle cx="152" cy="131.2" r="0.5" fill="#1a1a1a"/>
<circle cx="155.4" cy="131.5" r="0.7" fill="#1a1a1a"/>
<circle cx="157" cy="101.5" r="0.6" fill="#1a1a1a"/>
<ellipse cx="167.7" cy="105.6" rx="0.8" ry="1.2" fill="#f2f2f2" stroke="#1a1a1a" stroke-width="0.8" transform="rotate(0 167.7 105.6)"/>
<ellipse cx="190" cy="14.2" rx="2.4" ry="1.2" fill="#f2f2f2" stroke="#1a1a1a" stroke-width="0.8" transform="rotate(35 190 14.2)"/>
<circle cx="169.6" cy="29.3" r="0.9" fill="#1a1a1a"/>
<ellipse cx="170.4" cy="37.5" rx="1.1" ry="2.6" fill="#f2f2f2" stroke="#1a1a1a" stroke-width="0.8" transform="rotate(0 170.4 37.5)"/>
<ellipse cx="164.3" cy="40.5" rx="1.2" ry="2.2" fill="#f2f2f2" stroke="#1a1a1a" stroke-width="0.8" transform="rotate(0 164.3 40.5)"/>
<ellipse cx="167.5" cy="33" rx="0.8" ry="1.2" fill="#f2f2f2" stroke="#1a1a1a" stroke-width="0.8" transform="rotate(0 167.5 33)"/>
<circle cx="163.8" cy="50.5" r="0.9" fill="#1a1a1a"/>
<circle cx="165.5" cy="49" r="0.7" fill="#1a1a1a"/>
<circle cx="168.7" cy="52.2" r="0.9" fill="#1a1a1a"/>
<circle cx="166.6" cy="54.5" r="0.7" fill="#1a1a1a"/>
<circle cx="42.5" cy="126.5" r="0.5" fill="#1a1a1a"/>
<path d="M156.5,148.7 V155.1 H180.9 V148.7" fill="none" stroke="#333" stroke-width="0.9"/>
<text x="156.5" y="144.3" font-size="9.3" text-anchor="middle">0</text>
<text x="179" y="144.3" font-size="9.3">8 km</text>
</g>
<g id="mainmap">
<rect x="208" y="5.5" width="335.7" height="375" fill="#fff" stroke="#a6a6a6" stroke-width="1.1"/>
<path d="M370.5,42.7 L373.2,40.9 L374.97,41.04 L376.57,40.76 L378.6,40.9 L380.43,41.56 L383.03,41.62 L385,42.4 L386.5,40.71 L388.6,39.1 L390,36.57 L391.4,34.5 L391.73,32.63 L392.3,30.9 L393.8,30.48 L395.9,30 L397.71,30.42 L399.51,31.06 L401.4,31.8 L403.51,32.55 L405.9,32.7 L407.7,30.9 L404.5,30 L402.6,27.3 L404.1,24.5 L405.93,23.46 L407.7,22.7 L409.16,21.15 L410.5,20 L413.2,20.9 L413.89,22.61 L414.1,24.5 L412.3,27.3 L409.5,29.1 L409.5,31.8 L411.11,32.03 L413.36,32.39 L415,32.7 L417.14,32.17 L418.39,32.17 L420.5,31.5 L422.66,31.5 L424.87,30.91 L426.8,30.9 L428.6,32.7 L430,34.44 L431.4,36.4 L432.85,37.64 L434.1,39.1 L434.55,41.53 L435,43.6 L434.38,45.34 L433.5,47.3 L430.5,49.1 L429.28,50.62 L427.7,52.7 L426.92,54.32 L425.9,56.4 L423.87,57.08 L422.3,58.2 L420.71,57.81 L418.58,57.81 L416.8,57.6 L415.22,57.71 L413.05,57.77 L411.51,57.36 L409.5,57.6 L407.32,58.11 L405,58.2 L404.07,59.47 L402.6,60.9 L403.05,62.67 L403.7,64.5 L404.97,66.28 L406.8,68.2 L409.25,69.75 L411.4,70.9 L413.34,71.89 L415.2,72.7 L416.8,73.3 L418.38,74.01 L420.19,73.99 L422.3,74.5 L424.24,75.99 L426.8,76.9 L428.28,77.96 L430.05,79.16 L431.4,80 L433.72,81.11 L435.9,82.7 L437.6,83.82 L438.7,85.21 L440.5,86.4 L442.61,88.19 L444.1,90 L445.77,91.84 L447.7,93.3 L448.6,95.5 L446.99,94.77 L445,94 L442.63,93.05 L440.5,91.5 L438.78,90.69 L436.8,90 L434.81,91.12 L433.2,91.8 L432.3,94.5 L430.74,94.02 L428.6,93.6 L427.04,94.63 L425,95.5 L423.7,92.7 L422.02,91.24 L420.8,90 L419.45,88.94 L417.7,87.3 L416.18,86.19 L415,84.5 L413.5,87.3 L414.1,90 L413.02,88.94 L411.4,87.3 L410.16,85.66 L409.2,83.6 L406.8,82.7 L404.1,84.5 L402.13,85.15 L400.5,86.4 L399.3,88.14 L397.7,90 L395.95,91.5 L394.39,92.52 L393.2,93.6 L391.73,95 L389.92,96.04 L388.6,97.3 L386.14,98.34 L384.1,99.1 L381.62,99.71 L379.5,100 L377.91,98.49 L375.9,97.3 L373.42,96.66 L371.4,95.5 L368.95,93.81 L366.8,92.7 L366.66,90.68 L366.3,88.2 L367.09,86.02 L367.7,83.6 L369.68,81.77 L371.4,80 L373.89,78.87 L375.9,77.6 L374.57,75.84 L373.2,74.5 L371.26,73.48 L369.5,72.7 L367.45,72.87 L365.9,73.6 L363.2,71.8 L361.53,70.46 L360.5,69.1 L361.97,67.14 L363.2,65.5 L364.47,64.08 L365.9,62.7 L365.64,60.54 L365,58.2 L365.85,55.63 L366.8,53.6 L366.55,51.44 L365.9,49.1 L367.39,47.84 L368.6,46.4 L369.59,44.28Z" fill="#f6fab0" stroke="#1a1a1a" stroke-width="0.85" stroke-linejoin="round" />
<path d="M412.3,16.4 L415,14.5 L419.5,15.1 L423.7,15.8 L424.1,17.3 L419.5,17.8 L415,18.2Z" fill="#f6fab0" stroke="#1a1a1a" stroke-width="0.85" stroke-linejoin="round" />
<path d="M372.3,61.8 L377.7,68.2 L384.1,71.8 L390.5,72.7 L396.8,70 L402.6,64.5" fill="none" stroke="#c9cfa0" stroke-width="0.6" stroke-linejoin="round" />
<path d="M396.8,70 L402.6,79.1 L406.8,82.7" fill="none" stroke="#c9cfa0" stroke-width="0.6" stroke-linejoin="round" />
<path d="M366.8,53.6 L373.2,55.5 L380.5,57.6 L386.8,57.6 L394.1,58.7 L400.5,58.2" fill="none" stroke="#c9cfa0" stroke-width="0.6" stroke-linejoin="round" />
<path d="M384.1,71.8 L382.3,79.1 L376.8,82.7 L371.4,80" fill="none" stroke="#c9cfa0" stroke-width="0.6" stroke-linejoin="round" />
<path d="M418.3,47.3 L423.2,47.3 L425.9,50 L426.3,55.5 L423.2,57.6 L421.4,55.5 L420.8,50.9 L418.3,49.1Z" fill="#36a410"/>
<path d="M400.8,56.9 L403.7,56.5 L406.3,58.4 L405.9,60 L402.6,60.9 L400.1,59.1Z" fill="#36a410"/>
<path d="M404.5,46.4 L406.8,43.1 L408.1,42.7 L406.3,46 L405.2,48.2Z" fill="#36a410"/>
<path d="M415,76.2 L417.2,75.8 L417.5,77.6 L415.4,78Z" fill="#36a410"/>
<path d="M434.3,82.4 L435.7,82 L436.1,83.5 L434.6,83.6Z" fill="#36a410"/>
<path d="M407,84.2 L408.8,83.8 L409.2,85.6 L407.4,85.6Z" fill="#36a410"/>
<path d="M368.6,53.3 L371.4,54.7 L375,56.9 L378.3,58 L377.9,58.7 L374.3,57.8 L370.6,55.8 L368.1,54.2Z" fill="#36a410"/>
<path d="M384.1,57.6 L386.8,56.9 L388.1,58.4 L385.5,58.7Z" fill="#36a410"/>
<path d="M390.6,64.5 L392.1,63.8 L392.5,65.3 L391,65.6Z" fill="#36a410"/>
<path d="M393.5,62.4 L395,61.6 L395.4,63.1 L393.9,63.5Z" fill="#36a410"/>
<path d="M396.5,64.2 L398.3,63.8 L397.9,65.6 L396.6,65.5Z" fill="#36a410"/>
<path d="M386.3,67.8 L387.7,67.5 L387.7,68.9 L386.5,68.9Z" fill="#36a410"/>
<path d="M398.6,60.9 L399.7,60.5 L399.9,62 L398.8,62.2Z" fill="#36a410"/>
<path d="M403.7,45.5 L404.5,44.2 L405,44.9 L404.3,46.2Z" fill="#36a410"/>
<path d="M404.1,68.5 L405.2,67.8 L405.7,68.9 L404.6,69.6Z" fill="#36a410"/>
<path d="M422.6,78.7 L423.7,78.4 L424.1,79.5 L423,79.6Z" fill="#36a410"/>
<path d="M220.1,173.3 L222.04,172.81 L224.1,172.2 L225.31,171.02 L227.04,170.02 L228.6,169.1 L230.36,167.34 L232.3,165.5 L234.36,164.4 L236.8,162.7 L239.01,162.55 L241.4,161.8 L243.71,160.42 L245.9,159.1 L247.17,158.2 L249.24,156.98 L250.5,155.5 L252.93,153.8 L255,152.7 L256.95,152.63 L258.4,152.05 L260.5,151.8 L262.1,152.15 L264.1,152.7 L265.62,151.06 L266.8,150 L269.5,151.5 L271.96,152.51 L274.1,153.6 L276.23,153.87 L278.6,154.5 L281.21,155.13 L283.2,155.5 L285.6,156.18 L287.7,157.3 L289.77,157.4 L291.23,157.96 L293.2,158.2 L295.9,156.9 L298.24,156.08 L300.5,155.5 L302.18,154.63 L303.91,154.5 L305.9,153.6 L307.76,151.96 L309.5,150.9 L310.61,148.83 L311.4,147.3 L311.27,145.38 L310.5,143.6 L307.7,141.8 L308.87,140.69 L310.5,139.1 L312.4,137.52 L314.5,136.4 L317.3,138.2 L319.4,139.46 L320.9,140.9 L323.38,142.2 L325.5,143.6 L327.59,144.47 L329.1,145.5 L331.8,144.5 L332.56,142.08 L332.7,140 L334.55,138.01 L336.4,136.4 L339.1,138.2 L340.16,140.12 L340.9,141.8 L342.39,142.5 L344.5,142.7 L346.03,142.6 L348.02,141.88 L350,141.8 L351.65,141.76 L353.71,140.9 L355.5,140.9 L357.64,140.94 L360,140.5 L358.66,142.31 L357.3,143.6 L357.88,145.31 L358.2,147.3 L360.12,148.63 L361.8,150 L362.79,152.39 L364.2,154.5 L363.78,157.02 L363.6,159.1 L362.89,161.51 L361.8,163.6 L362.37,165.31 L362.72,167.27 L362.7,169.1 L362.43,170.76 L362.35,172.86 L361.8,174.5 L361.59,176.63 L360.9,179.1 L361.43,181.56 L361.8,183.23 L362,185.7 L363.17,187.22 L363.9,188.9 L364.5,192.1 L362,194 L359.28,193.49 L356.9,193.4 L355.13,194.02 L353.32,194.44 L351.2,194.6 L349.87,196.16 L348.93,196.92 L347.4,198.5 L349.22,199.72 L350.5,200.4 L352.39,201.05 L354.4,202.3 L356.24,203.01 L358.2,204.2 L360.7,206.1 L358.79,207.72 L356.9,209.9 L355.47,210.96 L353.66,212.04 L351.91,213.02 L350.5,214.4 L348.82,215.65 L346.87,217.02 L345.5,218.2 L344.9,220.05 L344.2,222 L342.12,222.02 L340.4,221.4 L338.56,220.56 L336.5,219.5 L334.84,218.38 L333.4,217.5 L334,216.3 L336.16,215.19 L337.7,214.29 L339.58,213.64 L341.6,212.5 L343.47,211.72 L344.85,211.47 L347.2,210.7 L348.75,209.72 L350.5,209.3 L349.3,206.1 L347.27,206.83 L345.18,207.21 L343.22,207.89 L341.85,207.78 L339.7,208.6 L338.5,205.5 L337.84,203.05 L337.2,201 L338.99,200.16 L341.09,199.87 L343.5,199.1 L342.3,195.9 L340.38,196.54 L338.6,196.8 L336.87,197.35 L335.3,197.8 L334.51,195.82 L334,194 L333.24,191.9 L332.1,190.2 L331.1,188.66 L329.8,186.98 L328.9,185.1 L328.22,183.72 L327.14,181.85 L326.4,180 L326.12,178.44 L326.07,176.27 L325.5,174.5 L324.79,172.19 L323.6,170 L322.73,168.46 L321.8,166.4 L320.58,163.94 L319.1,161.8 L317.22,160.28 L315.5,158.7 L313.64,158.22 L311.4,158.2 L309.42,159.01 L308.05,159.23 L305.9,160 L304.39,160.35 L302.08,161.19 L300.5,161.8 L298.57,162 L296.89,162.65 L295,162.7 L292.63,162.32 L290.5,162.4 L288.01,161.8 L285.9,161.3 L283.92,160.99 L281.4,160.9 L279.41,161.28 L277.7,161.8 L276.15,162.67 L274.1,163.6 L272.13,164.64 L270.5,166 L268.41,165.69 L266.8,166 L264.62,165.42 L262.3,164.2 L259.94,163.72 L257.7,163.6 L255.74,164.59 L253.2,165.5 L250.86,166.31 L248.6,167.3 L246.13,168.1 L244.1,169.1 L242.56,169.3 L240.73,169.51 L238.6,170 L236.4,170.33 L234.1,170.9 L231.77,171.72 L229.5,172.7 L227.37,173.31 L225,174.5 L223.23,175.57 L221.4,176.4Z" fill="#f6fab0" stroke="#1a1a1a" stroke-width="0.85" stroke-linejoin="round" />
<path d="M283.2,172.7 L285.26,170.76 L286.8,169.1 L289.11,168.69 L291.34,168.54 L293.2,167.8 L294.85,167.85 L296.55,167.98 L298.4,168.16 L300.5,168.2 L302.56,167.83 L304.06,166.83 L305.9,166.4 L308.55,166.43 L311,166 L313.07,166.41 L315.5,167.3 L316.84,168.79 L318.2,170.9 L318.71,172.91 L319.21,174.31 L320,176.4 L320.9,178.76 L321.45,180.85 L321.8,182.7 L322.69,184.37 L323.28,186.57 L323.6,188.2 L324,190.19 L325.1,191.67 L325.5,193.6 L325.83,195.57 L326.44,197.81 L327.3,200 L327.72,201.7 L327.9,203.51 L328.5,205.5 L328,209 L326.02,209.66 L323.6,210.9 L321.27,210.86 L319.09,211.39 L317.3,211.5 L315.43,210.86 L313.86,210.65 L311.8,210 L310,210.31 L308.29,210.74 L306.4,210.9 L304.58,210.93 L302.66,211.81 L300.9,211.8 L298.2,212.7 L296.8,211.8 L295.23,210.57 L294.1,209.1 L294.6,206.93 L295,204.5 L295.45,202.4 L296.5,200 L295.43,197.71 L295,195.5 L293.82,194.02 L292.3,192.7 L290.7,191.97 L288.6,190.9 L288.94,188.37 L289.5,186.4 L288.03,184.49 L286.8,182.7 L285.54,181.36 L283.7,180 L284.23,178.22 L285,176.4 L284.1,174.41Z" fill="#f6fab0" stroke="#1a1a1a" stroke-width="0.85" stroke-linejoin="round" />
<circle cx="282.6" cy="165.8" r="0.7" fill="#1a1a1a"/>
<path d="M325.5,168.2 L333.6,160.9 L344.5,157.3 L350,151.8 L352.7,147.3 L357.3,143.6" fill="none" stroke="#c9cfa0" stroke-width="0.6" stroke-linejoin="round" />
<path d="M344.5,157.3 L350,166.4 L352.7,173.6 L360.9,179.1" fill="none" stroke="#c9cfa0" stroke-width="0.6" stroke-linejoin="round" />
<path d="M333.6,180.9 L338.2,186.4 L342.7,192.7 L350,195.5" fill="none" stroke="#c9cfa0" stroke-width="0.6" stroke-linejoin="round" />
<path d="M329.1,145.5 L330.9,153.6 L333.6,160.9" fill="none" stroke="#c9cfa0" stroke-width="0.6" stroke-linejoin="round" />
<path d="M274.1,153.6 L272.8,159.1 L270.5,166" fill="none" stroke="#c9cfa0" stroke-width="0.5" stroke-linejoin="round" />
<path d="M247.7,160 L248.6,167.3" fill="none" stroke="#c9cfa0" stroke-width="0.5" stroke-linejoin="round" />
<path d="M308.6,169.1 L305.9,177.3 L303.2,188.2 L302.3,197.3 L305.9,210.9" fill="none" stroke="#c9cfa0" stroke-width="0.5" stroke-linejoin="round" />
<path d="M337.6,152.7 L341.8,149.6 L344.5,149.1 L341.8,151.8 L338.7,153.6Z" fill="#36a410"/>
<path d="M313.3,147.5 L315.5,144.5 L316.5,145.3 L314.4,148.2Z" fill="#36a410"/>
<path d="M348.2,145.3 L352.5,143.8 L352.9,144.9 L348.5,146.4Z" fill="#36a410"/>
<path d="M322.4,160.9 L324.9,163.1 L323.8,164.5 L322,168.9 L320.9,167.8 L322.7,164.2Z" fill="#36a410"/>
<path d="M327.3,180 L330,175.5 L333.6,173.6 L332.7,176.4 L330.4,178.7Z" fill="#36a410"/>
<path d="M312.7,173.6 L316.9,175.5 L317.3,176.9 L313.3,175.5Z" fill="#36a410"/>
<path d="M305.5,179.5 L307.8,176.9 L308.5,178 L306.4,180.5Z" fill="#36a410"/>
<path d="M314.5,178.2 L316.9,179.1 L317.3,182 L315.5,181.3Z" fill="#36a410"/>
<path d="M304.5,167.3 L308.2,167.5 L308.2,168.7 L304.5,168.5Z" fill="#36a410"/>
<path d="M352.4,153.6 L353.6,154 L353.8,157.3 L352.5,157.3Z" fill="#36a410"/>
<path d="M351.8,165.5 L353.5,165.6 L353.8,169.1 L352.2,168.9Z" fill="#36a410"/>
<path d="M336.4,169.1 L342.4,166.9 L342.9,168 L336.9,170.4Z" fill="#36a410"/>
<path d="M317.3,141.8 L319.1,142.7 L318.4,144.5 L316.7,143.5Z" fill="#36a410"/>
<path d="M350,148.2 L351.5,147.5 L352.2,148.9 L350.7,149.6Z" fill="#36a410"/>
<path d="M344.5,162.7 L346,162 L346.7,163.8 L345.1,164.5Z" fill="#36a410"/>
<path d="M340.9,173.6 L342.7,172.9 L343.1,174.7 L341.5,175.5Z" fill="#36a410"/>
<path d="M355.5,159.1 L356.5,158.7 L356.9,160.9 L355.8,161.3Z" fill="#36a410"/>
<path d="M315.5,184.5 L316.7,184.2 L317.3,186 L316,186.4Z" fill="#36a410"/>
<path d="M319.1,190.9 L320.2,190.5 L320.5,192.2 L319.5,192.5Z" fill="#36a410"/>
<path d="M339.1,157.3 L340.9,156.5 L341.6,158 L339.8,158.7Z" fill="#36a410"/>
<path d="M330.9,155.5 L332.2,155.1 L332.9,157.3 L331.5,157.6Z" fill="#36a410"/>
<path d="M346.4,171.8 L347.8,171.1 L348.5,172.9 L346.9,173.6Z" fill="#36a410"/>
<path d="M357.3,173.6 L358.4,173.3 L358.7,175.1 L357.6,175.5Z" fill="#36a410"/>
<path d="M344.5,182.7 L346,182 L346.5,183.8 L345.1,184.4Z" fill="#36a410"/>
<path d="M350,188.2 L351.3,187.6 L351.8,189.5 L350.4,189.8Z" fill="#36a410"/>
<path d="M325.5,150 L326.9,149.3 L327.6,151.1 L326.2,151.6Z" fill="#36a410"/>
<path d="M334.5,147.3 L335.8,146.7 L336.4,148.5 L335.1,148.9Z" fill="#36a410"/>
<path d="M303.2,167.3 L306.8,166 L307.7,167.1 L304.1,168.5Z" fill="#36a410"/>
<path d="M295,168.5 L299,167.8 L299.2,168.7 L295.2,169.3Z" fill="#36a410"/>
<path d="M312.3,173.6 L314.6,172.7 L315,177.6 L312.8,176.9Z" fill="#36a410"/>
<path d="M305.9,178.2 L308.1,177.6 L308.5,179.8 L306.3,180Z" fill="#36a410"/>
<path d="M309.5,180.9 L311.4,180.5 L311.5,182.4 L309.7,182.5Z" fill="#36a410"/>
<path d="M347.4,198.5 L348.93,196.92 L349.87,196.16 L351.2,194.6 L353.32,194.44 L355.13,194.02 L356.9,193.4 L359.28,193.49 L362,194 L364.5,192.1 L363.9,188.9 L366.8,189.5 L369.05,188.63 L371.4,187.7 L373.16,187.56 L375.21,187.14 L376.55,187.05 L378.6,186.8 L380.52,186.56 L382.47,185.96 L384.1,185.9 L385.89,186.18 L387.42,187.29 L389.5,187.7 L391.62,187.41 L393.34,187.03 L395,186.8 L397.6,185.3 L399.97,184.72 L402,184 L403.95,183.31 L406.5,182.7 L408.4,182.24 L410.5,182.1 L412.82,181.19 L415.5,180.8 L417.62,180.26 L419.9,180.2 L420.5,178.3 L422.92,178.23 L424.53,178.14 L426.9,177.6 L428.2,175.7 L430.69,175.73 L433.3,176.4 L435.53,175.79 L438.4,175.1 L440.16,175.32 L442.46,175.69 L444.37,175.4 L446,175.7 L446.6,173.8 L448.28,174.04 L450.48,174.43 L452.4,174.5 L454.39,173.21 L456.2,172.5 L456.51,174.75 L456.8,177.6 L456.73,179.4 L456.97,181.39 L457.56,183.41 L457.5,185.3 L457.61,187.19 L457.72,189.54 L457.99,191.4 L458.75,193.6 L458.7,195.5 L459.65,198 L460,200.5 L461.2,202.2 L463.21,203.07 L465.5,204.1 L467.62,204.9 L470,205.9 L471.44,206.93 L473.13,208.34 L474.5,209.5 L476.48,211.13 L478.2,213.2 L479.78,214.59 L480.9,215.9 L481.59,217.43 L482.7,219.5 L481.96,221.46 L481.8,224 L481.46,225.49 L480.52,227.47 L480,229.1 L479.33,231.61 L479.1,233.6 L479.6,236.21 L480,238.2 L481.53,240.56 L482.7,242.7 L483.1,244.71 L483.6,247.3 L482.9,248.86 L481.8,250.9 L480.64,252.7 L480,254.5 L479.84,256.99 L480,259.1 L479.1,260 L477.71,258.93 L476,258 L474.53,256.2 L473.2,254.2 L472.02,252.3 L470.4,250 L468.62,248.14 L467.3,246 L465.56,244.75 L464,243 L462.03,240.95 L460.4,239 L458.3,237.75 L456.3,236.6 L454.76,235.19 L453,233.6 L451.73,232.12 L450.3,230.6 L448.1,227.9 L447,225.7 L444.5,225.2 L443.2,227.1 L441.48,225.81 L439.49,225.02 L437.7,223.8 L436.45,222.35 L434.59,220.27 L433.21,218.65 L431.7,217.3 L429.9,217.9 L428.34,218.57 L426.57,218.73 L424.6,219 L423,221.4 L421.87,223.4 L420.3,225.7 L420.25,227.5 L419.7,229.5 L420.71,231.25 L421.9,233.4 L421.37,235.37 L421.4,237.7 L419.63,238.7 L418.56,239.94 L417,241 L415.39,241.74 L413.03,242.9 L411.5,243.7 L409.62,244.54 L407.7,245.9 L405.86,246.72 L404.15,246.96 L402.3,247.7 L400.27,248.58 L398.57,249.33 L396.8,250.5 L395.02,250.71 L393.22,250.27 L391.19,250.46 L389.5,250.5 L388.6,248.6 L386.8,245.9 L384.4,245.7 L382.3,245 L380.01,243.74 L377.7,242.3 L376.03,241 L374.1,239.5 L375.9,237.7 L378.01,237.02 L379.5,236.8 L379.52,234.95 L380.07,232.43 L380.5,230.5 L380.42,228.06 L380.11,226.44 L379.5,224.1 L377.77,222.83 L376.57,221.35 L374.7,219.5 L373.61,218.33 L372.45,216.67 L370.9,215.6 L369.18,214.27 L367.45,213.07 L365.8,211.8 L364.31,210.99 L362.6,209.9 L360.7,210.5 L359.41,211.72 L358.2,213.1 L359.5,215.6 L362,216.9 L365.2,216.3 L364.5,218.2 L363.75,219.81 L362.15,221.41 L361.4,223.3 L358.2,224.5 L356.58,223.44 L354.4,222.6 L351.93,222.58 L349.5,222.77 L347.4,222.6 L344.2,222 L344.9,220.05 L345.5,218.2 L346.87,217.02 L348.82,215.65 L350.5,214.4 L351.91,213.02 L353.66,212.04 L355.47,210.96 L356.9,209.9 L358.79,207.72 L360.7,206.1 L358.2,204.2 L356.24,203.01 L354.4,202.3 L352.39,201.05 L350.5,200.4 L349.22,199.72Z" fill="#fcaef8" stroke="#1a1a1a" stroke-width="0.85" stroke-linejoin="round" />
<rect x="348.8" y="222.2" width="4.6" height="4.2" fill="#fff" stroke="#1a1a1a" stroke-width="0.6" transform="rotate(-18 351 224)"/>
<path d="M424.6,219 L431.7,217.3 L437.7,223.8 L443.2,227.4 L445.9,225.7 L448.1,228.5 L449.7,232.3 L450.8,236.1 L450.3,239 L448.6,240.1 L443.2,235.5 L437.7,230.6 L431.2,224.6Z" fill="#fcaef8" stroke="#1a1a1a" stroke-width="0.7" stroke-linejoin="round" />
<path d="M430.3,218.3 L431.8,217.7 L437.7,223.5 L436.6,224.6Z" fill="#fff" stroke="#1a1a1a" stroke-width="0.5" stroke-linejoin="round" />
<path d="M448.1,237.2 L449.9,237.7 L449.5,239.4 L448.4,239Z" fill="#36a410"/>
<path d="M389.5,187.7 L393,196 L397,204 L400,212 L398,222 L392,228 L384,230 L380.5,230.5" fill="none" stroke="#d9a3d6" stroke-width="0.5" stroke-linejoin="round" />
<path d="M400,212 L408,214 L416,210 L422,204 L430,202 L438,204 L447,203 L459.1,196.8" fill="none" stroke="#d9a3d6" stroke-width="0.5" stroke-linejoin="round" />
<path d="M392,228 L398,236 L402.3,247.7" fill="none" stroke="#d9a3d6" stroke-width="0.5" stroke-linejoin="round" />
<path d="M438,204 L440,212 L445,218 L447.3,231.4" fill="none" stroke="#d9a3d6" stroke-width="0.5" stroke-linejoin="round" />
<path d="M420.5,179.5 L424,190 L430,202" fill="none" stroke="#d9a3d6" stroke-width="0.5" stroke-linejoin="round" />
<path d="M366.8,189.5 L372,198 L378,206 L384,212 L392,214 L400,212" fill="none" stroke="#d9a3d6" stroke-width="0.5" stroke-linejoin="round" />
<path d="M447,203 L452,212 L458,218 L466,222 L474,228 L480,229.1" fill="none" stroke="#d9a3d6" stroke-width="0.5" stroke-linejoin="round" />
<path d="M378.6,186.8 L380.5,194.1 L378.6,201.4 L381.4,208.6 L380.5,215.9 L379.5,224.1" fill="none" stroke="#d9a3d6" stroke-width="0.5" stroke-linejoin="round" />
<path d="M380.5,194.1 L389.5,195.9 L396.8,201.4 L397.7,210.5 L395,217.7 L396.8,225 L395,234.1 L395.9,245" fill="none" stroke="#d9a3d6" stroke-width="0.5" stroke-linejoin="round" />
<path d="M396.8,201.4 L404.1,199.5 L411.4,194.1 L420.5,192.3 L427.7,195.9 L435,197.7" fill="none" stroke="#d9a3d6" stroke-width="0.5" stroke-linejoin="round" />
<path d="M379.5,210.5 L387.7,212.3 L395,217.7" fill="none" stroke="#d9a3d6" stroke-width="0.5" stroke-linejoin="round" />
<path d="M395,234.1 L404.1,232.3 L413.2,228.6 L420.5,226.8" fill="none" stroke="#d9a3d6" stroke-width="0.5" stroke-linejoin="round" />
<path d="M364.1,194.1 L369.5,204.1 L376.8,210.5" fill="none" stroke="#d9a3d6" stroke-width="0.5" stroke-linejoin="round" />
<path d="M411.4,194.1 L409.5,186.8 L411.4,182.3" fill="none" stroke="#d9a3d6" stroke-width="0.5" stroke-linejoin="round" />
<path d="M389.5,195.9 L391.4,187.7" fill="none" stroke="#d9a3d6" stroke-width="0.5" stroke-linejoin="round" />
<path d="M420,204.1 L427.3,202.3 L434.5,201.4 L436.4,206.8 L435.5,214.1 L430.9,217.7" fill="none" stroke="#d9a3d6" stroke-width="0.5" stroke-linejoin="round" />
<path d="M434.5,201.4 L443.6,203.2 L450.9,202.3 L459.1,196.8" fill="none" stroke="#d9a3d6" stroke-width="0.5" stroke-linejoin="round" />
<path d="M443.6,203.2 L445.5,210.5 L452.7,217.7 L456.4,225 L455.5,235" fill="none" stroke="#d9a3d6" stroke-width="0.5" stroke-linejoin="round" />
<path d="M459.1,201.4 L461.8,208.6 L467.3,214.1 L472.7,219.5 L478.2,225 L480.9,227.7" fill="none" stroke="#d9a3d6" stroke-width="0.5" stroke-linejoin="round" />
<path d="M452.7,217.7 L461.8,219.5 L467.3,214.1" fill="none" stroke="#d9a3d6" stroke-width="0.5" stroke-linejoin="round" />
<path d="M441.8,175 L442.7,186.8 L443.6,203.2" fill="none" stroke="#d9a3d6" stroke-width="0.5" stroke-linejoin="round" />
<path d="M406.8,187.7 L409.5,186.8 L411,190.5 L408.6,192.3Z" fill="#36a410"/>
<path d="M408.6,201.4 L411.4,200.6 L413.2,203.5 L412.1,206.1 L409.5,205.4Z" fill="#36a410"/>
<path d="M416.8,194.1 L419,193.7 L420.5,197.7 L419.7,200.6 L417.9,199.5Z" fill="#36a410"/>
<path d="M415,203.2 L418.3,202.8 L418.6,205.4 L415.7,206.1Z" fill="#36a410"/>
<path d="M392.3,241.4 L394.6,241 L395.4,245 L392.8,246.1Z" fill="#36a410"/>
<path d="M351.7,195.9 L353.2,195 L354.6,200.5 L358.6,203.2 L357.7,204.6 L352.8,202.3Z" fill="#36a410"/>
<path d="M375.9,211.4 L378.6,210.5 L379.9,213.7 L377.2,215.2Z" fill="#36a410"/>
<path d="M385.9,192.3 L388.5,191.9 L388.8,194.1 L386.3,194.5Z" fill="#36a410"/>
<path d="M417.2,234.1 L419,233.7 L419.2,236.3 L417.5,236.5Z" fill="#36a410"/>
<path d="M394.1,208.6 L395.7,208.3 L396.1,211.4 L394.5,211.5Z" fill="#36a410"/>
<path d="M424.1,196.8 L425.9,196.5 L426.3,199.5 L424.5,199.7Z" fill="#36a410"/>
<path d="M430.5,182.3 L432.3,181.9 L432.6,184.1 L430.8,184.5Z" fill="#36a410"/>
<path d="M396.8,229.5 L399,229 L399.4,231.5 L397.2,231.9Z" fill="#36a410"/>
<path d="M382.6,223.2 L384.5,222.8 L385,225.4 L383.2,225.7Z" fill="#36a410"/>
<path d="M399.5,219.5 L401.5,218.8 L402.3,221.4 L400.1,222.1Z" fill="#36a410"/>
<path d="M404.1,245 L407,244.3 L407.4,245.7 L404.5,246.5Z" fill="#36a410"/>
<path d="M377.7,200.5 L379.4,199.9 L379.9,202.1 L378.3,202.6Z" fill="#36a410"/>
<path d="M389.5,201.4 L391,201 L391.4,203.5 L389.9,203.9Z" fill="#36a410"/>
<path d="M411.4,219.5 L413.2,219 L413.5,221.4 L411.7,221.7Z" fill="#36a410"/>
<path d="M374.1,205.9 L376.8,207.2 L376.1,208.6 L373.5,207.2Z" fill="#36a410"/>
<path d="M397.7,240.5 L399.2,239.9 L399.7,242.1 L398.1,242.5Z" fill="#36a410"/>
<path d="M407.7,241.4 L409.2,241 L409.5,242.8 L408.1,243.2Z" fill="#36a410"/>
<path d="M402.3,195.9 L403.7,195.4 L404.3,197.4 L402.8,197.9Z" fill="#36a410"/>
<path d="M425.9,186.8 L427.4,186.5 L427.7,188.3 L426.3,188.6Z" fill="#36a410"/>
<path d="M453.6,206.8 L456.4,206.1 L458.2,208.6 L457.1,211.2 L454.5,210.5Z" fill="#36a410"/>
<path d="M451.3,212.6 L453.8,211.9 L454.2,214.5 L451.8,215.2Z" fill="#36a410"/>
<path d="M444.5,196.8 L446.5,195.9 L448.4,199.5 L446.9,201Z" fill="#36a410"/>
<path d="M434.5,195.5 L438.2,196.3 L437.8,198.1 L434.2,197.4Z" fill="#36a410"/>
<path d="M436.7,209.4 L442.7,210.5 L442.5,212.3 L436.4,211.2Z" fill="#36a410"/>
<path d="M442.7,203.5 L445.5,203.2 L445.8,205 L443.1,205.4Z" fill="#36a410"/>
<path d="M424,197 L426.5,195.9 L427.3,197.7 L424.7,199.2Z" fill="#36a410"/>
<path d="M466.9,226.8 L469.1,226.1 L469.8,228.6 L467.6,229.4Z" fill="#36a410"/>
<path d="M460.9,233.7 L463.6,233 L464.2,235.5 L461.5,236.3Z" fill="#36a410"/>
<path d="M467.6,236.8 L470,236.3 L470.5,238.8 L468.2,239.2Z" fill="#36a410"/>
<path d="M477.8,229.5 L480,228.6 L480.7,231.2 L478.5,231.9Z" fill="#36a410"/>
<path d="M450.9,184.1 L452.7,183.5 L453.3,185.7 L451.5,186.3Z" fill="#36a410"/>
<path d="M430.5,182.8 L432.4,182.3 L432.9,184.3 L431.1,184.8Z" fill="#36a410"/>
<path d="M474.5,219.5 L476,219 L476.5,221 L475.1,221.5Z" fill="#36a410"/>
<path d="M463.6,217.7 L465.1,217.2 L465.6,219.2 L464.2,219.7Z" fill="#36a410"/>
<path d="M471.8,243.2 L473.3,242.6 L473.8,245 L472.4,245.5Z" fill="#36a410"/>
<path d="M443.6,186.8 L445.1,186.3 L445.6,188.3 L444.2,188.8Z" fill="#36a410"/>
<path d="M448.2,217.7 L449.6,217.2 L450.2,219.2 L448.7,219.7Z" fill="#36a410"/>
<path d="M474.5,246.8 L476,246.1 L476.7,249 L475.3,249.7Z" fill="#36a410"/>
<path d="M493.6,197.3 L496.4,199.1 L498.23,200.19 L500,201.8 L501.38,203.51 L502.7,205.5 L504.02,207.55 L505.5,209.1 L506.55,210.96 L508.2,212.7 L510.29,214.17 L511.8,215.5 L513.07,217.53 L514.5,219.1 L516.23,221.1 L518.2,222.7 L519.77,224.59 L520.9,226.4 L521.52,228.12 L522.7,230 L524.83,228.88 L527.3,228.2 L526.15,229.72 L524.5,231.8 L525.35,234.03 L526.4,236.4 L526.5,238.36 L527.09,240.26 L527.3,241.8 L528.25,244.41 L529.1,246.4 L529.56,248.26 L529.67,250.3 L530,251.8 L529.81,253.48 L529.73,255.48 L530,257.3 L530.04,259.04 L530.9,261.09 L530.9,262.7 L530.39,264.39 L530.55,266.42 L530,268.2 L528.97,270.58 L527.3,272.7 L525.89,275.15 L524.5,277.3 L524.96,278.84 L525.21,281.02 L525.5,282.7 L524.7,284.81 L524.5,287.3 L522.4,287.9 L520,289.1 L518.95,287.41 L517.3,285.5 L515.61,283.52 L514.5,280.9 L513.37,278.46 L512.7,276.4 L511.12,275.55 L509.1,274.5 L508.62,272.93 L508.2,270.9 L509.73,268.71 L510.9,266.4 L511.09,264.81 L511.55,263.04 L511.8,260.9 L511.57,259.32 L511.31,257.29 L510.9,255.5 L510.76,253.19 L510,250.9 L509.13,248.38 L508.2,246.4 L508.77,243.88 L509.1,241.8 L509.26,239.25 L510,237.3 L509.1,234.5 L508.81,236.34 L508.2,238.2 L507.94,240.16 L507.3,241.8 L505.56,242.11 L503.6,242.7 L501.63,242.88 L500,243.6 L498.8,245.29 L497.3,247.3 L495.72,249.02 L493.6,250.9 L491.36,252.01 L489.1,253.6 L487.1,255.3 L485.5,257.3 L483.92,259.25 L481.8,260.9 L480,259.1 L479.84,256.99 L480,254.5 L480.64,252.7 L481.8,250.9 L482.9,248.86 L483.6,247.3 L483.1,244.71 L482.7,242.7 L481.53,240.56 L480,238.2 L479.6,236.21 L479.1,233.6 L479.33,231.61 L480,229.1 L481.41,227.19 L482.7,225.5 L483.5,223.46 L484.5,221.8 L484.21,219.82 L483.6,217.3 L480.9,215.5 L481.57,213.34 L481.8,211.8 L483.82,210.26 L485.5,209.1 L485.18,207.54 L484.5,205.5 L487.3,203.6 L488.96,202.19 L490.9,200.9 L492.06,198.98Z" fill="#f6fab0" stroke="#1a1a1a" stroke-width="0.85" stroke-linejoin="round" />
<path d="M490.9,200.9 L492,208 L497,212 L499,220 L503,226 L508,228 L509.1,234.5" fill="none" stroke="#c9cfa0" stroke-width="0.6" stroke-linejoin="round" />
<path d="M499,220 L494,224 L490,232 L488,240 L490,248 L493.6,250.9" fill="none" stroke="#c9cfa0" stroke-width="0.6" stroke-linejoin="round" />
<path d="M503,226 L505,234 L503.6,242.7" fill="none" stroke="#c9cfa0" stroke-width="0.6" stroke-linejoin="round" />
<path d="M492.2,212.7 L494.4,213.3 L495.5,215.1 L493.3,214.4Z" fill="#36a410"/>
<path d="M497.6,218.7 L500.2,219.8 L503.8,223.1 L502.7,224.2 L499.1,221.3Z" fill="#36a410"/>
<path d="M504.5,226.4 L506.7,228.2 L508.5,232.2 L507.1,231.5Z" fill="#36a410"/>
<path d="M501.3,231.5 L503.1,231.1 L502.7,233.6 L501.3,233.3Z" fill="#36a410"/>
<path d="M495.5,235.1 L497.3,234.7 L497.6,236.5 L495.8,236.9Z" fill="#36a410"/>
<path d="M508.5,242.7 L510,240.2 L511.8,237.6 L513.6,236.9 L511.8,240.9 L510,244.5Z" fill="#36a410"/>
<path d="M510,245.5 L512.7,244.5 L513.6,246 L510.7,247.5Z" fill="#36a410"/>
<path d="M516.9,248.2 L518.4,247.8 L518.7,249.6 L517.3,250Z" fill="#36a410"/>
<path d="M508.2,233.6 L508.9,237.6 L508.2,240.9" fill="none" stroke="#555" stroke-width="0.8" stroke-linejoin="round" />
<path d="M326.8,270 L328.56,268.2 L330.5,266.4 L332.14,265.58 L334.27,265.27 L335.9,264.5 L338,263.85 L339.32,262.57 L341.4,261.8 L343.19,260.6 L344.17,259.09 L345.9,258.2 L347.73,257.79 L349.3,257.58 L351.4,256.9 L352.91,256.75 L355.24,256.72 L356.85,256.44 L358.6,256.4 L360.39,256.34 L362.39,256.46 L364.1,256.9 L366.09,257.11 L367.75,257.35 L369.5,257.3 L371.09,257.73 L373.29,258.53 L375,259.1 L377.05,259.21 L378.53,259.56 L380.5,260 L382.41,261.16 L384.1,262.7 L386.11,263.4 L387.7,264.5 L389.4,264.78 L391.26,264.88 L393.2,265.5 L395.32,264.85 L397.1,264.54 L398.6,263.6 L400.39,263.73 L402.17,263.99 L404.1,264.5 L405.97,264.09 L407.97,263.49 L409.5,262.7 L411.4,262.55 L413.47,262.37 L415,261.8 L416.04,260.39 L417.46,258.8 L418.48,257.32 L419.5,255.5 L421.63,254.61 L422.98,254.05 L425,253.6 L426.87,253.21 L428.77,253.27 L430.31,252.75 L432.3,252.7 L434.45,252.86 L437.34,252.69 L439.5,252.7 L441.37,253.11 L442.99,253.85 L445.18,254.12 L446.8,254.5 L448.63,255.2 L450.28,255.7 L452.42,256.84 L454.1,257.3 L456.06,258.16 L457.94,259.34 L459.5,260 L461.05,260.9 L463.33,260.93 L465,261.8 L466.96,262.71 L468.62,263.06 L470.5,263.6 L472.15,264.36 L473.92,265.2 L475.9,266.4 L477.81,268.24 L479.5,270 L481,272 L481.84,273.79 L483.2,275.9 L484.54,277.48 L486.1,278.8 L488.19,280.67 L489.7,282.5 L491.42,284.25 L493.4,285.4 L495.04,287.12 L497,288.3 L498.08,289.74 L499.6,291.2 L498.37,293.16 L497.7,294.8 L497.23,296.51 L496.3,298.5 L496.21,300.44 L496.6,302.1 L495.03,303.69 L493.4,305 L491.44,306.42 L489.7,307.9 L488.38,309.2 L486.8,310.1 L486.1,313 L487.04,314.57 L488.3,316.6 L489.08,318.24 L490.5,320.3 L491.22,322.04 L491.9,323.9 L491.56,325.53 L491.2,327.5 L493.4,328.7 L495.59,328.62 L497.7,329 L499.35,328.72 L501.4,328.6 L501.4,330 L498.96,330.02 L497,330.5 L494.18,330.74 L491.9,331.2 L492.63,333.12 L493.6,335.5 L494.62,337.7 L495.5,340 L496.42,342 L497.3,344.5 L497.89,346.97 L498.2,349.1 L498.94,351.2 L499.1,352.7 L501.22,353.3 L502.7,354.5 L503.46,356.07 L504.5,358.2 L502.7,360.9 L501.53,359.73 L500,358.2 L498.43,357.59 L496.4,357.3 L494.37,357.47 L492.7,358.2 L491.07,357.73 L489.1,357.3 L486.99,356.22 L485.5,355.5 L484.3,353.72 L482.7,351.8 L482.02,349.43 L480.9,347.3 L479.69,345.15 L479.1,343.6 L477.56,342.56 L475.5,341.8 L474.59,339.69 L473.6,337.3 L473.28,334.7 L472.7,332.7 L472.43,331.1 L471.89,329.38 L471.8,327.3 L471.63,325.43 L471.21,323.88 L470.9,321.8 L471.47,319.36 L471.8,317.3 L469.1,315.5 L467.34,313.63 L465.5,311.8 L463.67,309.79 L461.8,308.2 L459.9,308.6 L461.13,311.09 L461.9,313.1 L462.92,314.98 L463.5,317.2 L464.19,319.27 L465.5,321.3 L465.85,323.1 L465.7,325.3 L464.38,326.78 L463.6,328.3 L460.6,329 L458.5,326.8 L458.28,324.99 L457.7,323.2 L457.49,320.84 L457,318.8 L456.46,316.7 L456.3,314.5 L456.59,312.63 L456.7,310.8 L457.03,308.77 L457,306.5 L456.53,308.76 L455.82,310.63 L455.5,313 L455.79,315.12 L456.3,317.4 L455.67,319.85 L455.5,321.7 L454.83,323.84 L454.1,326.1 L452.69,327.28 L451.9,329 L451.73,330.63 L451.4,332.7 L450.22,334.74 L449.5,336.4 L448.79,338.17 L447.7,340 L448.83,341.55 L450.5,342.7 L452.34,343.73 L454.1,344.5 L455.69,345.89 L456.8,347.3 L456.35,348.97 L455.9,350.9 L455.43,353.33 L455,355.5 L455.71,357.91 L456.8,360 L457.6,362.39 L458.6,364.5 L458.88,366.88 L458.6,369.1 L457.39,370.24 L455.9,371.5 L453.89,372.41 L451.4,372.7 L448.97,371.99 L446.8,371.8 L445.53,369.71 L444.1,368.2 L443.6,366.62 L443.05,364.43 L442.8,362.7 L442.76,360.99 L442.86,358.87 L443.2,357.3 L443.7,354.8 L444.1,352.7 L444.37,350.39 L444.1,348.2 L442.3,345.5 L440.62,345.65 L438.6,346.4 L436.78,347.11 L435,348.2 L433.44,349.62 L431.4,350.9 L429.56,351.61 L427.7,352.7 L425.9,350.9 L426.4,349.18 L426.8,347.3 L428.24,346.1 L429.5,344.5 L431.11,342.95 L432.3,341.8 L433.04,339.37 L433.2,337.3 L431.69,335.21 L430.5,333.6 L428.99,332.07 L427.7,330 L428.15,327.9 L428.6,325.5 L427.26,323.67 L425.9,321.8 L423.6,321.18 L421.4,320.9 L419.61,320.38 L417.7,320 L415.9,317.3 L415.42,315.69 L415,313.6 L412.97,312.77 L411.4,311.5 L409.06,311.32 L406.8,310.9 L404.69,311.53 L402.3,312.7 L401.2,314.37 L399.5,315.5 L399.05,317.68 L398.6,320 L398.43,322.08 L397.7,324.5 L396.98,326.18 L395.9,328.2 L393.79,327.75 L392.3,327.3 L390.36,325.5 L388.6,323.6 L387.41,321.65 L385.9,320 L387.7,320 L387.68,318.52 L387.7,316.4 L386.79,314.65 L385.9,312.7 L383.2,310.9 L380.5,309.1 L378.64,309.84 L376.8,310 L375.14,309.89 L373.4,309.28 L371.4,309.1 L369.71,309.16 L367.64,309.38 L365.9,309.1 L363.8,308.77 L362.51,308.73 L360.5,308.2 L358.09,307.75 L355.9,307.3 L353.38,306.71 L351.4,305.5 L349.8,303.95 L347.7,302.7 L346.54,300.67 L345.9,299.1 L344.64,296.64 L343.2,294.5 L341.74,292.73 L341.01,290.81 L339.5,289.1 L338.15,287.11 L336.84,285.36 L335.9,283.6 L334.48,282.37 L333.74,280.88 L332.3,279.1 L331.37,277.65 L329.61,276.21 L328.6,274.5 L328,272.26Z" fill="#cfeff9" stroke="#1a1a1a" stroke-width="0.85" stroke-linejoin="round" />
<path d="M427.7,267.3 L429.65,265.71 L431.4,263.6 L433.42,262.4 L435.9,261.8 L437.96,262.5 L439.5,263.6 L440.69,265.48 L442.3,267.3 L442.59,269.56 L442.8,271.3 L444.01,273.33 L444.6,275.9 L446.31,277.51 L448.3,278.8 L449.58,276.77 L450.5,275.2 L452.08,274.03 L453.4,273 L454.67,274.21 L456.3,275.2 L457.87,276.9 L459.2,278.8 L460.46,280.44 L462.1,281.7 L463.48,283.7 L464.3,285.4 L463.5,286.53 L462.1,288.3 L459.9,290.5 L460.45,292.19 L460.6,294.1 L461.6,295.39 L462.8,297 L461.83,299.12 L461.4,300.6 L460.6,301.76 L459.2,303.5 L458.12,304.81 L457,306.5 L456.53,308.76 L455.82,310.63 L455.5,313 L455.79,315.12 L456.3,317.4 L455.67,319.85 L455.5,321.7 L454.83,323.84 L454.1,326.1 L452.69,327.28 L451.9,329 L450.5,331.2 L448.3,333.4 L446.17,334.64 L443.9,336.3 L442.01,336.75 L439.5,337 L437.33,336.06 L435.2,335.5 L433.92,334.13 L433,332.6 L432.17,330.59 L430.8,329 L430.58,326.95 L430.1,325.4 L430.82,323.79 L431.5,321.7 L432.55,319.77 L433.6,318.2 L431.4,315.5 L429.36,316.17 L427.7,316.4 L425.78,315.74 L424.1,314.5 L423.01,312.48 L422.3,310.9 L422.84,308.88 L423.2,306.4 L422.95,303.99 L422.3,301.8 L423.1,300.25 L424.1,298.2 L426.47,297.35 L428.6,296.4 L430.5,294.5 L428.68,293.64 L426.8,292.7 L427.2,290.45 L427.7,288.2 L427.53,285.73 L426.8,283.6 L428.3,281.68 L429.5,280 L430.76,277.84 L431.4,275.5 L430.04,273.35 L428.6,271.8 L428.32,269.83Z" fill="#fff" stroke="#1a1a1a" stroke-width="0.85" stroke-linejoin="round" />
<path d="M483.2,276.6 L484.9,278.8 L484.3,281.3 L482.5,280.3Z" fill="#fff" stroke="#1a1a1a" stroke-width="0.6" stroke-linejoin="round" />
<path d="M361.4,311.8 L365.9,310.9 L371.4,311.5 L376.8,312.2 L379.5,314.5 L381.4,318.2 L381.9,322.7 L380.8,326.4 L382.3,330 L380.5,330.9 L377.7,327.3 L375,324.5 L371.4,320.9 L367.7,317.3 L364.1,314.5Z" fill="#cfeff9" stroke="#1a1a1a" stroke-width="0.85" stroke-linejoin="round" />
<ellipse cx="411.7" cy="324" rx="4" ry="2.2" fill="#cfeff9" stroke="#1a1a1a" stroke-width="0.85"/>
<ellipse cx="412.3" cy="347.2" rx="2.8" ry="2.3" fill="#cfeff9" stroke="#1a1a1a" stroke-width="0.85"/>
<path d="M320.5,263.6 L322.3,261.3 L325,261.8 L325.5,263.6 L323.2,264.9Z" fill="#cfeff9" stroke="#1a1a1a" stroke-width="0.85" stroke-linejoin="round" />
<circle cx="327.7" cy="261.3" r="0.5" fill="#1a1a1a"/>
<path d="M353.5,312.7 l3.5,-0.6" stroke="#1a1a1a" stroke-width="1"/>
<circle cx="360" cy="315.5" r="0.6" fill="#1a1a1a"/>
<path d="M497.5,333.5 l3.5,0.2" stroke="#1a1a1a" stroke-width="1"/>
<circle cx="457.3" cy="357.6" r="0.6" fill="#1a1a1a"/>
<path d="M335.9,275.5 L342.3,273.6 L351.4,280 L357.7,286.4 L363.2,293.6 L364.1,300.9 L373.2,297.3 L384.1,293.6 L393.2,296.4 L402.3,298.2 L415,295.5" fill="none" stroke="#9aa7ad" stroke-width="0.6" stroke-linejoin="round" />
<path d="M387.7,264.5 L386.8,270 L388.6,277.3 L387.7,286.4 L384.1,293.6" fill="none" stroke="#9aa7ad" stroke-width="0.6" stroke-linejoin="round" />
<path d="M345.9,262.7 L349.5,270 L351.4,280" fill="none" stroke="#a9bcc4" stroke-width="0.5" stroke-linejoin="round" />
<path d="M357.7,286.4 L352.3,289.1 L351.4,297.3 L354.1,301.8" fill="none" stroke="#a9bcc4" stroke-width="0.5" stroke-linejoin="round" />
<path d="M364.1,300.9 L369.5,304.5 L376.8,305.5 L383.2,310.9" fill="none" stroke="#a9bcc4" stroke-width="0.5" stroke-linejoin="round" />
<path d="M385,294.5 L392.3,296.4 L403.2,298.2 L414.1,297.6 L422.3,295.5" fill="none" stroke="#9aa7ad" stroke-width="0.6" stroke-linejoin="round" />
<path d="M385,270 L395.9,268.2 L406.8,271.8 L417.7,275.5 L427.7,277.3" fill="none" stroke="#a9bcc4" stroke-width="0.5" stroke-linejoin="round" />
<path d="M414.1,297.6 L415.9,304.5 L415,310" fill="none" stroke="#a9bcc4" stroke-width="0.5" stroke-linejoin="round" />
<path d="M461.4,296.3 L467.2,297.7 L473,296.3 L478.8,296.3 L484.6,299.2 L490.5,302.1 L494.8,303.5" fill="none" stroke="#9aa7ad" stroke-width="0.6" stroke-linejoin="round" />
<path d="M473,296.3 L475.9,302.8 L479.5,311.5 L481.7,320.3 L483.2,329 L484.6,340.1" fill="none" stroke="#a9bcc4" stroke-width="0.6" stroke-linejoin="round" />
<path d="M468.6,299.2 L473,307.2 L475.9,315.9" fill="none" stroke="#a9bcc4" stroke-width="0.5" stroke-linejoin="round" />
<path d="M482.7,320.9 L483.6,331.8 L488.2,342.7 L490,353.6" fill="none" stroke="#a9bcc4" stroke-width="0.6" stroke-linejoin="round" />
<path d="M459.2,278.8 L465.7,273.7 L473,272.3 L478.8,275.2 L483.2,275.9" fill="none" stroke="#a9bcc4" stroke-width="0.5" stroke-linejoin="round" />
<path d="M386.8,320 L390.5,318.7 L395,320 L400.5,318.7 L402.3,320 L400.5,324.5 L397.7,327.3 L395,329.5 L391.4,327.3 L388.6,324.5Z" fill="#36a410"/>
<path d="M403.2,311.8 L404.8,311.5 L405.2,314.7 L403.7,314.7Z" fill="#36a410"/>
<path d="M380.5,260.5 L382.6,261.3 L385.2,263.8 L384.1,264.5 L381.5,262.4Z" fill="#36a410"/>
<path d="M358.6,256 L364.1,256.5 L364.1,257.6 L358.6,257.3Z" fill="#36a410"/>
<path d="M405.9,272.7 L408.6,272.2 L409.9,277.3 L407,277.6Z" fill="#36a410"/>
<path d="M413.2,264.5 L415,264.2 L415,270 L413.5,269.6Z" fill="#36a410"/>
<path d="M378.6,265.5 L381.5,264.9 L382.3,268.2 L379.4,268.5Z" fill="#36a410"/>
<path d="M342.8,292.9 L343.7,292.5 L346.3,296.5 L345.4,297.1Z" fill="#36a410"/>
<path d="M369.5,258.2 L372.3,259.1 L371.7,260.5 L369.2,259.5Z" fill="#36a410"/>
<path d="M393.2,266.4 L395,266 L395.4,268.2 L393.5,268.5Z" fill="#36a410"/>
<path d="M361.4,260.9 L362.6,260.5 L363,262.7 L361.7,263.1Z" fill="#36a410"/>
<path d="M338.6,266.4 L340.5,266 L340.6,267.8 L338.8,268Z" fill="#36a410"/>
<path d="M334.1,275.5 L336.8,275.1 L336.8,276.5 L334.3,276.9Z" fill="#36a410"/>
<path d="M375,270 L376.5,269.6 L376.8,271.8 L375.4,272Z" fill="#36a410"/>
<path d="M398.6,270 L400.1,269.6 L400.5,271.8 L399,272Z" fill="#36a410"/>
<path d="M377.7,299.1 L380.5,298.4 L380.8,299.8 L378.1,300.4Z" fill="#36a410"/>
<path d="M352.3,273.6 L353.7,273.3 L353.9,275.1 L352.5,275.3Z" fill="#36a410"/>
<path d="M367.7,264.2 L369,263.8 L369.2,265.6 L367.9,265.8Z" fill="#36a410"/>
<path d="M376.8,308.2 L379,308.5 L378.6,310 L376.8,309.6Z" fill="#36a410"/>
<path d="M413.2,263.6 L417.7,262.4 L419.2,267.3 L415.9,269.6 L413.7,268.2Z" fill="#36a410"/>
<path d="M406.8,272.7 L409,272.2 L409.7,277.3 L407.5,277.6Z" fill="#36a410"/>
<path d="M412.3,272.7 L414.1,272.2 L414.8,275.8 L413,276.2Z" fill="#36a410"/>
<path d="M418.6,290.9 L420.6,290.4 L422.1,294.7 L419.9,295.1Z" fill="#36a410"/>
<path d="M412.3,306.4 L414.1,305.6 L415.5,311.8 L413.4,312.2Z" fill="#36a410"/>
<path d="M397.7,306.4 L399.5,307.8 L403.2,310.9 L401.7,312.7 L398.5,310Z" fill="#36a410"/>
<path d="M428.6,260.9 L432.6,259.5 L433.4,260.9 L429.4,262.4Z" fill="#36a410"/>
<path d="M441.4,255.1 L444.1,255.8 L443.5,257.3 L441,256.5Z" fill="#36a410"/>
<path d="M447.7,258.2 L452.6,260.5 L457.4,263.1 L456.6,264.2 L451.9,262 L447.2,259.5Z" fill="#36a410"/>
<path d="M468.6,268.2 L471.5,267.5 L473,272.9 L470.5,275.5 L469,273.3Z" fill="#36a410"/>
<path d="M475,281.3 L476.6,279.1 L477.7,280.2 L476.3,284.5Z" fill="#36a410"/>
<path d="M463.2,268.2 L464.6,267.8 L465,270 L463.5,270.4Z" fill="#36a410"/>
<path d="M402.3,266.4 L403.7,266 L404.1,267.8 L402.6,268.2Z" fill="#36a410"/>
<path d="M395.9,273.6 L397.4,273.3 L397.7,275.1 L396.3,275.5Z" fill="#36a410"/>
<path d="M421.4,264.5 L422.8,264.2 L423.2,266.4 L421.7,266.7Z" fill="#36a410"/>
<path d="M423.2,321.8 L426.1,323.1 L427.9,325.3 L426.5,325.6 L423.5,323.5Z" fill="#36a410"/>
<path d="M436.5,340 L438.8,339.5 L439.2,340.9 L436.8,341.6Z" fill="#36a410"/>
<path d="M483.2,271.5 L485,272.7 L485,277.3 L483.7,275.5Z" fill="#36a410"/>
<path d="M469.4,268.6 L472.3,267.9 L473.3,272.3 L471.3,275.9 L469.5,273.7Z" fill="#36a410"/>
<path d="M475.2,282.5 L476.6,280.3 L477.7,281 L476.2,284.6Z" fill="#36a410"/>
<path d="M489,282.2 L490.7,282.5 L491.3,284.2 L489.6,284.2Z" fill="#36a410"/>
<path d="M485.4,286.8 L487.3,286.2 L487.5,287.7 L485.7,288.3Z" fill="#36a410"/>
<path d="M488.7,318.1 L490.7,317.7 L492.8,321 L493.4,324.9 L491.9,327.8 L489.6,326.8 L489,322.5Z" fill="#36a410"/>
<path d="M491.2,329.7 L493.4,329 L493.9,330.2 L491.6,331.2Z" fill="#36a410"/>
<path d="M471.3,277.4 L472.4,276.9 L472.7,279.5 L471.5,279.8Z" fill="#36a410"/>
<path d="M464.3,270.8 L465.7,270.2 L466.2,272 L464.7,272.3Z" fill="#36a410"/>
<path d="M448.3,265.7 L451.2,265 L451.5,266.2 L448.6,266.7Z" fill="#36a410"/>
<path d="M459.2,265 L462.8,265 L462.1,266.2 L459.6,266.2Z" fill="#36a410"/>
<path d="M437.7,343.6 L439.5,342.7 L440.6,344.5 L438.8,345.5Z" fill="#36a410"/>
<path d="M425.4,331.8 L427.2,333.6 L426.5,335.5 L425,333.6Z" fill="#36a410"/>
<path d="M422.3,320 L425.9,321.3 L427.9,323.6 L426.5,323.8 L423.5,322Z" fill="#36a410"/>
<path d="M440,342.7 L441.5,343.8 L441.1,345.3 L440,344.5Z" fill="#36a410"/>
<path d="M382.6,311.5 L386.6,312.2 L384.8,314Z" fill="#1a1a1a"/>
<g fill="#36a410"><ellipse cx="333.0" cy="188.1" rx="0.7" ry="0.3" transform="rotate(2 333.0 188.1)"/><ellipse cx="356.4" cy="158.6" rx="0.4" ry="0.6" transform="rotate(85 356.4 158.6)"/><ellipse cx="356.3" cy="177.2" rx="0.7" ry="0.3" transform="rotate(114 356.3 177.2)"/><ellipse cx="357.9" cy="181.2" rx="0.7" ry="0.5" transform="rotate(12 357.9 181.2)"/><ellipse cx="352.4" cy="187.0" rx="0.5" ry="0.3" transform="rotate(156 352.4 187.0)"/><ellipse cx="360.6" cy="170.2" rx="0.8" ry="0.4" transform="rotate(168 360.6 170.2)"/><ellipse cx="321.3" cy="155.0" rx="0.9" ry="0.4" transform="rotate(113 321.3 155.0)"/><ellipse cx="329.6" cy="179.8" rx="0.5" ry="0.4" transform="rotate(105 329.6 179.8)"/><ellipse cx="343.7" cy="213.8" rx="0.7" ry="0.6" transform="rotate(154 343.7 213.8)"/><ellipse cx="343.2" cy="160.8" rx="0.3" ry="0.6" transform="rotate(178 343.2 160.8)"/><ellipse cx="335.0" cy="149.3" rx="0.5" ry="0.6" transform="rotate(157 335.0 149.3)"/><ellipse cx="334.9" cy="188.7" rx="0.4" ry="0.3" transform="rotate(156 334.9 188.7)"/><ellipse cx="359.3" cy="168.7" rx="0.6" ry="0.5" transform="rotate(116 359.3 168.7)"/><ellipse cx="344.3" cy="184.3" rx="0.7" ry="0.6" transform="rotate(91 344.3 184.3)"/><ellipse cx="326.4" cy="162.2" rx="0.9" ry="0.5" transform="rotate(99 326.4 162.2)"/><ellipse cx="345.3" cy="190.5" rx="0.3" ry="0.5" transform="rotate(84 345.3 190.5)"/><ellipse cx="348.5" cy="166.6" rx="0.7" ry="0.5" transform="rotate(4 348.5 166.6)"/><ellipse cx="337.3" cy="187.1" rx="0.5" ry="0.4" transform="rotate(56 337.3 187.1)"/><ellipse cx="333.0" cy="187.4" rx="0.5" ry="0.4" transform="rotate(139 333.0 187.4)"/><ellipse cx="351.3" cy="162.9" rx="0.4" ry="0.6" transform="rotate(43 351.3 162.9)"/><ellipse cx="349.4" cy="145.1" rx="0.5" ry="0.4" transform="rotate(150 349.4 145.1)"/><ellipse cx="323.0" cy="165.2" rx="0.7" ry="0.6" transform="rotate(81 323.0 165.2)"/><ellipse cx="325.8" cy="146.8" rx="0.6" ry="0.4" transform="rotate(145 325.8 146.8)"/><ellipse cx="356.4" cy="152.1" rx="0.5" ry="0.6" transform="rotate(116 356.4 152.1)"/><ellipse cx="354.8" cy="166.0" rx="0.4" ry="0.4" transform="rotate(143 354.8 166.0)"/><ellipse cx="328.1" cy="166.0" rx="0.6" ry="0.4" transform="rotate(74 328.1 166.0)"/><ellipse cx="336.2" cy="217.7" rx="0.9" ry="0.4" transform="rotate(134 336.2 217.7)"/><ellipse cx="340.5" cy="161.1" rx="0.5" ry="0.4" transform="rotate(12 340.5 161.1)"/><ellipse cx="343.9" cy="161.0" rx="0.8" ry="0.3" transform="rotate(163 343.9 161.0)"/><ellipse cx="351.8" cy="151.1" rx="0.5" ry="0.5" transform="rotate(94 351.8 151.1)"/><ellipse cx="345.1" cy="165.6" rx="0.5" ry="0.6" transform="rotate(86 345.1 165.6)"/><ellipse cx="353.6" cy="166.5" rx="0.4" ry="0.5" transform="rotate(147 353.6 166.5)"/><ellipse cx="335.6" cy="176.9" rx="0.8" ry="0.3" transform="rotate(10 335.6 176.9)"/><ellipse cx="320.8" cy="147.1" rx="0.3" ry="0.6" transform="rotate(154 320.8 147.1)"/><ellipse cx="330.3" cy="163.3" rx="0.5" ry="0.5" transform="rotate(106 330.3 163.3)"/><ellipse cx="332.5" cy="152.8" rx="0.5" ry="0.3" transform="rotate(100 332.5 152.8)"/></g>
<g fill="#36a410"><ellipse cx="293.9" cy="170.8" rx="0.5" ry="0.4" transform="rotate(12 293.9 170.8)"/><ellipse cx="301.4" cy="208.9" rx="0.8" ry="0.6" transform="rotate(40 301.4 208.9)"/><ellipse cx="307.5" cy="178.9" rx="0.4" ry="0.3" transform="rotate(39 307.5 178.9)"/><ellipse cx="325.2" cy="204.7" rx="0.8" ry="0.6" transform="rotate(35 325.2 204.7)"/><ellipse cx="297.2" cy="195.3" rx="0.7" ry="0.6" transform="rotate(158 297.2 195.3)"/><ellipse cx="313.6" cy="189.6" rx="0.4" ry="0.5" transform="rotate(16 313.6 189.6)"/><ellipse cx="325.5" cy="206.4" rx="0.6" ry="0.4" transform="rotate(164 325.5 206.4)"/><ellipse cx="309.1" cy="207.2" rx="0.8" ry="0.5" transform="rotate(75 309.1 207.2)"/><ellipse cx="310.3" cy="186.1" rx="0.4" ry="0.4" transform="rotate(146 310.3 186.1)"/><ellipse cx="311.6" cy="179.1" rx="0.6" ry="0.5" transform="rotate(62 311.6 179.1)"/><ellipse cx="301.9" cy="175.5" rx="0.7" ry="0.4" transform="rotate(64 301.9 175.5)"/><ellipse cx="317.0" cy="181.0" rx="0.6" ry="0.6" transform="rotate(18 317.0 181.0)"/><ellipse cx="317.9" cy="194.7" rx="0.4" ry="0.4" transform="rotate(32 317.9 194.7)"/><ellipse cx="314.8" cy="207.8" rx="0.9" ry="0.5" transform="rotate(173 314.8 207.8)"/><ellipse cx="301.8" cy="210.1" rx="0.7" ry="0.6" transform="rotate(53 301.8 210.1)"/><ellipse cx="291.9" cy="186.7" rx="0.4" ry="0.4" transform="rotate(173 291.9 186.7)"/></g>
<g fill="#36a410"><ellipse cx="475.7" cy="229.3" rx="0.9" ry="0.3" transform="rotate(84 475.7 229.3)"/><ellipse cx="378.6" cy="220.1" rx="0.7" ry="0.3" transform="rotate(39 378.6 220.1)"/><ellipse cx="450.9" cy="186.5" rx="0.9" ry="0.4" transform="rotate(111 450.9 186.5)"/><ellipse cx="478.2" cy="219.7" rx="0.8" ry="0.4" transform="rotate(169 478.2 219.7)"/><ellipse cx="386.2" cy="225.3" rx="0.3" ry="0.6" transform="rotate(61 386.2 225.3)"/><ellipse cx="387.4" cy="244.1" rx="0.6" ry="0.4" transform="rotate(87 387.4 244.1)"/><ellipse cx="442.4" cy="177.5" rx="1.0" ry="0.3" transform="rotate(135 442.4 177.5)"/><ellipse cx="454.0" cy="204.5" rx="0.7" ry="0.3" transform="rotate(8 454.0 204.5)"/><ellipse cx="392.2" cy="203.5" rx="0.7" ry="0.6" transform="rotate(19 392.2 203.5)"/><ellipse cx="391.7" cy="225.9" rx="0.9" ry="0.4" transform="rotate(166 391.7 225.9)"/><ellipse cx="420.2" cy="199.8" rx="0.5" ry="0.4" transform="rotate(14 420.2 199.8)"/><ellipse cx="418.6" cy="208.0" rx="0.5" ry="0.5" transform="rotate(149 418.6 208.0)"/><ellipse cx="407.7" cy="209.4" rx="0.3" ry="0.7" transform="rotate(6 407.7 209.4)"/><ellipse cx="476.6" cy="227.7" rx="0.9" ry="0.3" transform="rotate(78 476.6 227.7)"/><ellipse cx="385.3" cy="212.2" rx="1.0" ry="0.6" transform="rotate(176 385.3 212.2)"/><ellipse cx="407.4" cy="215.2" rx="0.8" ry="0.5" transform="rotate(52 407.4 215.2)"/><ellipse cx="478.0" cy="227.4" rx="0.6" ry="0.4" transform="rotate(16 478.0 227.4)"/><ellipse cx="382.2" cy="240.9" rx="0.9" ry="0.4" transform="rotate(141 382.2 240.9)"/><ellipse cx="394.9" cy="234.1" rx="0.5" ry="0.5" transform="rotate(139 394.9 234.1)"/><ellipse cx="440.5" cy="198.2" rx="1.0" ry="0.6" transform="rotate(105 440.5 198.2)"/><ellipse cx="408.7" cy="244.0" rx="0.8" ry="0.6" transform="rotate(63 408.7 244.0)"/><ellipse cx="459.6" cy="203.1" rx="0.9" ry="0.6" transform="rotate(124 459.6 203.1)"/><ellipse cx="416.4" cy="218.8" rx="0.4" ry="0.6" transform="rotate(169 416.4 218.8)"/><ellipse cx="410.7" cy="233.0" rx="0.8" ry="0.6" transform="rotate(31 410.7 233.0)"/><ellipse cx="453.0" cy="223.3" rx="0.8" ry="0.5" transform="rotate(112 453.0 223.3)"/><ellipse cx="452.2" cy="228.2" rx="0.8" ry="0.3" transform="rotate(29 452.2 228.2)"/><ellipse cx="405.7" cy="229.4" rx="0.5" ry="0.6" transform="rotate(114 405.7 229.4)"/><ellipse cx="362.8" cy="200.3" rx="0.4" ry="0.4" transform="rotate(6 362.8 200.3)"/><ellipse cx="409.1" cy="205.8" rx="0.7" ry="0.5" transform="rotate(43 409.1 205.8)"/><ellipse cx="400.7" cy="196.9" rx="0.6" ry="0.3" transform="rotate(150 400.7 196.9)"/><ellipse cx="429.7" cy="180.8" rx="0.7" ry="0.4" transform="rotate(105 429.7 180.8)"/><ellipse cx="477.8" cy="244.1" rx="0.6" ry="0.6" transform="rotate(116 477.8 244.1)"/><ellipse cx="477.6" cy="257.2" rx="0.7" ry="0.4" transform="rotate(161 477.6 257.2)"/><ellipse cx="404.4" cy="192.3" rx="0.5" ry="0.7" transform="rotate(68 404.4 192.3)"/><ellipse cx="478.2" cy="252.5" rx="0.7" ry="0.4" transform="rotate(177 478.2 252.5)"/><ellipse cx="413.4" cy="208.9" rx="0.5" ry="0.7" transform="rotate(89 413.4 208.9)"/><ellipse cx="384.1" cy="214.2" rx="0.4" ry="0.5" transform="rotate(80 384.1 214.2)"/><ellipse cx="385.1" cy="240.9" rx="0.9" ry="0.3" transform="rotate(96 385.1 240.9)"/><ellipse cx="453.2" cy="194.0" rx="0.5" ry="0.4" transform="rotate(178 453.2 194.0)"/><ellipse cx="385.1" cy="225.7" rx="0.6" ry="0.6" transform="rotate(109 385.1 225.7)"/><ellipse cx="447.8" cy="182.8" rx="0.8" ry="0.4" transform="rotate(96 447.8 182.8)"/><ellipse cx="391.1" cy="198.5" rx="0.7" ry="0.5" transform="rotate(65 391.1 198.5)"/><ellipse cx="448.1" cy="224.2" rx="0.3" ry="0.4" transform="rotate(82 448.1 224.2)"/><ellipse cx="472.0" cy="250.2" rx="0.7" ry="0.3" transform="rotate(140 472.0 250.2)"/><ellipse cx="403.8" cy="222.9" rx="0.8" ry="0.6" transform="rotate(87 403.8 222.9)"/><ellipse cx="398.8" cy="247.0" rx="0.4" ry="0.4" transform="rotate(149 398.8 247.0)"/><ellipse cx="441.0" cy="210.4" rx="0.5" ry="0.6" transform="rotate(164 441.0 210.4)"/><ellipse cx="420.7" cy="216.0" rx="0.5" ry="0.4" transform="rotate(105 420.7 216.0)"/><ellipse cx="454.6" cy="230.6" rx="0.3" ry="0.6" transform="rotate(176 454.6 230.6)"/><ellipse cx="476.9" cy="234.8" rx="0.4" ry="0.4" transform="rotate(165 476.9 234.8)"/><ellipse cx="401.9" cy="186.6" rx="0.7" ry="0.3" transform="rotate(19 401.9 186.6)"/><ellipse cx="388.1" cy="225.0" rx="0.6" ry="0.7" transform="rotate(67 388.1 225.0)"/><ellipse cx="380.9" cy="220.8" rx="0.5" ry="0.6" transform="rotate(93 380.9 220.8)"/><ellipse cx="395.9" cy="237.0" rx="0.4" ry="0.6" transform="rotate(118 395.9 237.0)"/><ellipse cx="427.0" cy="193.4" rx="0.9" ry="0.5" transform="rotate(58 427.0 193.4)"/><ellipse cx="455.2" cy="175.1" rx="0.8" ry="0.3" transform="rotate(27 455.2 175.1)"/><ellipse cx="476.9" cy="232.1" rx="0.5" ry="0.3" transform="rotate(175 476.9 232.1)"/><ellipse cx="393.6" cy="193.1" rx="0.5" ry="0.5" transform="rotate(63 393.6 193.1)"/><ellipse cx="460.1" cy="229.2" rx="0.9" ry="0.5" transform="rotate(153 460.1 229.2)"/><ellipse cx="416.3" cy="224.4" rx="0.7" ry="0.6" transform="rotate(71 416.3 224.4)"/><ellipse cx="468.2" cy="214.6" rx="0.8" ry="0.3" transform="rotate(85 468.2 214.6)"/><ellipse cx="468.2" cy="226.7" rx="0.6" ry="0.5" transform="rotate(18 468.2 226.7)"/><ellipse cx="396.4" cy="206.2" rx="0.9" ry="0.4" transform="rotate(46 396.4 206.2)"/><ellipse cx="384.2" cy="193.1" rx="0.6" ry="0.3" transform="rotate(166 384.2 193.1)"/><ellipse cx="384.8" cy="231.5" rx="0.8" ry="0.4" transform="rotate(36 384.8 231.5)"/><ellipse cx="387.7" cy="213.5" rx="0.5" ry="0.6" transform="rotate(129 387.7 213.5)"/><ellipse cx="367.0" cy="193.5" rx="0.8" ry="0.7" transform="rotate(116 367.0 193.5)"/><ellipse cx="452.8" cy="208.4" rx="0.3" ry="0.5" transform="rotate(178 452.8 208.4)"/><ellipse cx="416.5" cy="203.1" rx="0.4" ry="0.3" transform="rotate(162 416.5 203.1)"/><ellipse cx="401.0" cy="199.3" rx="0.3" ry="0.3" transform="rotate(175 401.0 199.3)"/><ellipse cx="400.3" cy="219.0" rx="0.4" ry="0.4" transform="rotate(19 400.3 219.0)"/><ellipse cx="419.4" cy="215.1" rx="0.7" ry="0.5" transform="rotate(113 419.4 215.1)"/><ellipse cx="387.1" cy="211.8" rx="0.9" ry="0.4" transform="rotate(21 387.1 211.8)"/><ellipse cx="424.6" cy="194.0" rx="0.3" ry="0.6" transform="rotate(9 424.6 194.0)"/><ellipse cx="372.1" cy="197.5" rx="0.6" ry="0.3" transform="rotate(76 372.1 197.5)"/><ellipse cx="388.0" cy="238.3" rx="0.7" ry="0.7" transform="rotate(118 388.0 238.3)"/><ellipse cx="450.1" cy="222.8" rx="0.6" ry="0.6" transform="rotate(118 450.1 222.8)"/><ellipse cx="477.3" cy="236.2" rx="0.8" ry="0.4" transform="rotate(146 477.3 236.2)"/><ellipse cx="450.7" cy="221.3" rx="0.3" ry="0.3" transform="rotate(23 450.7 221.3)"/><ellipse cx="394.0" cy="247.7" rx="1.0" ry="0.5" transform="rotate(42 394.0 247.7)"/><ellipse cx="404.0" cy="204.2" rx="0.5" ry="0.3" transform="rotate(105 404.0 204.2)"/><ellipse cx="459.5" cy="236.1" rx="0.4" ry="0.5" transform="rotate(31 459.5 236.1)"/><ellipse cx="443.1" cy="211.5" rx="1.0" ry="0.6" transform="rotate(21 443.1 211.5)"/><ellipse cx="408.5" cy="210.5" rx="0.6" ry="0.6" transform="rotate(169 408.5 210.5)"/><ellipse cx="427.3" cy="181.6" rx="0.9" ry="0.5" transform="rotate(9 427.3 181.6)"/><ellipse cx="424.6" cy="214.7" rx="0.9" ry="0.5" transform="rotate(39 424.6 214.7)"/><ellipse cx="382.8" cy="190.1" rx="0.7" ry="0.4" transform="rotate(135 382.8 190.1)"/><ellipse cx="377.9" cy="203.3" rx="0.5" ry="0.7" transform="rotate(151 377.9 203.3)"/><ellipse cx="462.7" cy="226.6" rx="0.6" ry="0.4" transform="rotate(150 462.7 226.6)"/><ellipse cx="389.4" cy="232.3" rx="0.9" ry="0.5" transform="rotate(144 389.4 232.3)"/><ellipse cx="415.5" cy="223.8" rx="0.4" ry="0.5" transform="rotate(57 415.5 223.8)"/><ellipse cx="397.6" cy="214.2" rx="0.8" ry="0.5" transform="rotate(177 397.6 214.2)"/><ellipse cx="394.8" cy="224.4" rx="0.8" ry="0.5" transform="rotate(51 394.8 224.4)"/><ellipse cx="393.8" cy="223.3" rx="0.8" ry="0.6" transform="rotate(55 393.8 223.3)"/><ellipse cx="444.0" cy="178.8" rx="0.8" ry="0.6" transform="rotate(172 444.0 178.8)"/><ellipse cx="469.3" cy="232.7" rx="0.9" ry="0.6" transform="rotate(110 469.3 232.7)"/><ellipse cx="480.1" cy="220.1" rx="0.6" ry="0.3" transform="rotate(70 480.1 220.1)"/><ellipse cx="429.7" cy="206.3" rx="0.4" ry="0.6" transform="rotate(100 429.7 206.3)"/><ellipse cx="443.9" cy="205.2" rx="0.9" ry="0.4" transform="rotate(55 443.9 205.2)"/><ellipse cx="381.5" cy="226.9" rx="0.9" ry="0.4" transform="rotate(114 381.5 226.9)"/><ellipse cx="451.0" cy="192.2" rx="0.3" ry="0.5" transform="rotate(149 451.0 192.2)"/><ellipse cx="466.7" cy="236.2" rx="0.6" ry="0.5" transform="rotate(95 466.7 236.2)"/><ellipse cx="383.3" cy="225.5" rx="1.0" ry="0.4" transform="rotate(5 383.3 225.5)"/><ellipse cx="360.3" cy="221.7" rx="0.7" ry="0.4" transform="rotate(34 360.3 221.7)"/><ellipse cx="352.8" cy="214.9" rx="0.9" ry="0.7" transform="rotate(57 352.8 214.9)"/><ellipse cx="462.7" cy="229.0" rx="0.9" ry="0.4" transform="rotate(125 462.7 229.0)"/><ellipse cx="461.4" cy="214.2" rx="0.4" ry="0.4" transform="rotate(28 461.4 214.2)"/><ellipse cx="430.0" cy="181.7" rx="0.8" ry="0.6" transform="rotate(147 430.0 181.7)"/><ellipse cx="456.2" cy="234.9" rx="0.9" ry="0.7" transform="rotate(113 456.2 234.9)"/><ellipse cx="373.0" cy="205.3" rx="0.6" ry="0.6" transform="rotate(134 373.0 205.3)"/><ellipse cx="420.0" cy="205.3" rx="0.4" ry="0.5" transform="rotate(67 420.0 205.3)"/><ellipse cx="439.5" cy="215.9" rx="1.0" ry="0.7" transform="rotate(13 439.5 215.9)"/><ellipse cx="411.0" cy="203.5" rx="0.8" ry="0.7" transform="rotate(69 411.0 203.5)"/><ellipse cx="384.7" cy="216.1" rx="0.8" ry="0.6" transform="rotate(104 384.7 216.1)"/><ellipse cx="385.5" cy="202.0" rx="0.9" ry="0.5" transform="rotate(9 385.5 202.0)"/><ellipse cx="402.9" cy="193.3" rx="0.8" ry="0.3" transform="rotate(49 402.9 193.3)"/><ellipse cx="357.6" cy="214.3" rx="1.0" ry="0.5" transform="rotate(70 357.6 214.3)"/><ellipse cx="393.8" cy="243.4" rx="0.3" ry="0.6" transform="rotate(65 393.8 243.4)"/><ellipse cx="408.1" cy="206.0" rx="0.7" ry="0.3" transform="rotate(39 408.1 206.0)"/><ellipse cx="440.0" cy="216.9" rx="0.3" ry="0.5" transform="rotate(140 440.0 216.9)"/></g>
<g fill="#36a410"><ellipse cx="404.5" cy="269.8" rx="0.3" ry="0.5" transform="rotate(85 404.5 269.8)"/><ellipse cx="447.9" cy="270.3" rx="0.8" ry="0.5" transform="rotate(75 447.9 270.3)"/><ellipse cx="412.6" cy="289.8" rx="0.4" ry="0.5" transform="rotate(145 412.6 289.8)"/><ellipse cx="371.0" cy="295.6" rx="0.7" ry="0.6" transform="rotate(60 371.0 295.6)"/><ellipse cx="344.8" cy="266.7" rx="0.7" ry="0.4" transform="rotate(171 344.8 266.7)"/><ellipse cx="420.3" cy="266.9" rx="0.7" ry="0.4" transform="rotate(168 420.3 266.9)"/><ellipse cx="422.3" cy="271.8" rx="0.7" ry="0.3" transform="rotate(158 422.3 271.8)"/><ellipse cx="360.4" cy="280.4" rx="0.4" ry="0.4" transform="rotate(156 360.4 280.4)"/><ellipse cx="425.1" cy="271.9" rx="0.5" ry="0.4" transform="rotate(23 425.1 271.9)"/><ellipse cx="395.0" cy="292.9" rx="0.5" ry="0.6" transform="rotate(44 395.0 292.9)"/><ellipse cx="398.7" cy="297.0" rx="0.8" ry="0.5" transform="rotate(85 398.7 297.0)"/><ellipse cx="371.0" cy="280.6" rx="0.8" ry="0.4" transform="rotate(4 371.0 280.6)"/><ellipse cx="349.3" cy="285.4" rx="0.5" ry="0.4" transform="rotate(81 349.3 285.4)"/><ellipse cx="393.1" cy="299.2" rx="0.7" ry="0.4" transform="rotate(85 393.1 299.2)"/><ellipse cx="388.1" cy="271.9" rx="0.8" ry="0.4" transform="rotate(119 388.1 271.9)"/><ellipse cx="387.8" cy="286.1" rx="0.5" ry="0.4" transform="rotate(88 387.8 286.1)"/><ellipse cx="424.0" cy="277.4" rx="0.8" ry="0.6" transform="rotate(89 424.0 277.4)"/><ellipse cx="425.9" cy="286.2" rx="0.4" ry="0.5" transform="rotate(18 425.9 286.2)"/><ellipse cx="346.6" cy="288.1" rx="0.6" ry="0.6" transform="rotate(113 346.6 288.1)"/><ellipse cx="399.4" cy="290.4" rx="0.8" ry="0.3" transform="rotate(170 399.4 290.4)"/><ellipse cx="469.1" cy="278.3" rx="0.8" ry="0.4" transform="rotate(50 469.1 278.3)"/><ellipse cx="396.2" cy="301.3" rx="0.3" ry="0.3" transform="rotate(147 396.2 301.3)"/><ellipse cx="335.5" cy="265.6" rx="0.5" ry="0.3" transform="rotate(179 335.5 265.6)"/><ellipse cx="347.9" cy="283.4" rx="0.6" ry="0.5" transform="rotate(14 347.9 283.4)"/><ellipse cx="353.4" cy="270.7" rx="0.4" ry="0.5" transform="rotate(70 353.4 270.7)"/><ellipse cx="364.5" cy="267.9" rx="0.6" ry="0.6" transform="rotate(75 364.5 267.9)"/><ellipse cx="355.4" cy="272.4" rx="0.4" ry="0.5" transform="rotate(142 355.4 272.4)"/><ellipse cx="417.3" cy="266.3" rx="0.5" ry="0.4" transform="rotate(79 417.3 266.3)"/><ellipse cx="414.5" cy="288.9" rx="0.7" ry="0.5" transform="rotate(145 414.5 288.9)"/><ellipse cx="387.3" cy="289.1" rx="0.9" ry="0.4" transform="rotate(113 387.3 289.1)"/><ellipse cx="345.8" cy="274.8" rx="0.3" ry="0.5" transform="rotate(142 345.8 274.8)"/><ellipse cx="364.9" cy="284.3" rx="0.9" ry="0.4" transform="rotate(85 364.9 284.3)"/><ellipse cx="356.2" cy="288.8" rx="0.4" ry="0.3" transform="rotate(177 356.2 288.8)"/><ellipse cx="374.3" cy="278.4" rx="0.4" ry="0.6" transform="rotate(140 374.3 278.4)"/><ellipse cx="420.8" cy="269.5" rx="0.8" ry="0.5" transform="rotate(179 420.8 269.5)"/><ellipse cx="396.9" cy="297.0" rx="0.3" ry="0.3" transform="rotate(2 396.9 297.0)"/><ellipse cx="420.6" cy="270.3" rx="0.4" ry="0.4" transform="rotate(33 420.6 270.3)"/><ellipse cx="421.1" cy="284.2" rx="0.7" ry="0.5" transform="rotate(49 421.1 284.2)"/><ellipse cx="359.9" cy="278.7" rx="0.8" ry="0.5" transform="rotate(171 359.9 278.7)"/><ellipse cx="348.8" cy="285.6" rx="0.6" ry="0.6" transform="rotate(96 348.8 285.6)"/><ellipse cx="402.2" cy="297.5" rx="0.8" ry="0.4" transform="rotate(165 402.2 297.5)"/><ellipse cx="382.0" cy="269.3" rx="0.4" ry="0.4" transform="rotate(154 382.0 269.3)"/><ellipse cx="409.8" cy="294.3" rx="0.6" ry="0.4" transform="rotate(179 409.8 294.3)"/><ellipse cx="350.6" cy="262.5" rx="0.7" ry="0.5" transform="rotate(28 350.6 262.5)"/><ellipse cx="357.2" cy="266.1" rx="0.7" ry="0.6" transform="rotate(133 357.2 266.1)"/><ellipse cx="424.2" cy="279.0" rx="0.8" ry="0.5" transform="rotate(132 424.2 279.0)"/><ellipse cx="372.4" cy="291.7" rx="0.5" ry="0.5" transform="rotate(18 372.4 291.7)"/><ellipse cx="457.9" cy="275.1" rx="0.8" ry="0.3" transform="rotate(120 457.9 275.1)"/><ellipse cx="402.0" cy="276.6" rx="0.3" ry="0.5" transform="rotate(151 402.0 276.6)"/><ellipse cx="346.3" cy="278.6" rx="0.3" ry="0.6" transform="rotate(175 346.3 278.6)"/><ellipse cx="341.2" cy="263.1" rx="0.7" ry="0.6" transform="rotate(178 341.2 263.1)"/><ellipse cx="461.9" cy="278.2" rx="0.5" ry="0.5" transform="rotate(62 461.9 278.2)"/><ellipse cx="413.6" cy="299.5" rx="0.6" ry="0.6" transform="rotate(129 413.6 299.5)"/><ellipse cx="406.0" cy="282.9" rx="0.4" ry="0.3" transform="rotate(3 406.0 282.9)"/><ellipse cx="362.5" cy="271.8" rx="0.4" ry="0.3" transform="rotate(131 362.5 271.8)"/><ellipse cx="363.7" cy="292.0" rx="0.7" ry="0.3" transform="rotate(158 363.7 292.0)"/><ellipse cx="385.0" cy="266.1" rx="0.4" ry="0.6" transform="rotate(40 385.0 266.1)"/><ellipse cx="389.1" cy="283.4" rx="0.5" ry="0.5" transform="rotate(16 389.1 283.4)"/><ellipse cx="396.1" cy="285.2" rx="0.7" ry="0.5" transform="rotate(48 396.1 285.2)"/><ellipse cx="404.1" cy="288.0" rx="0.8" ry="0.4" transform="rotate(48 404.1 288.0)"/><ellipse cx="395.5" cy="275.0" rx="0.9" ry="0.5" transform="rotate(161 395.5 275.0)"/><ellipse cx="355.3" cy="270.5" rx="0.7" ry="0.4" transform="rotate(119 355.3 270.5)"/><ellipse cx="347.5" cy="278.2" rx="0.6" ry="0.4" transform="rotate(47 347.5 278.2)"/><ellipse cx="377.7" cy="275.8" rx="0.7" ry="0.6" transform="rotate(129 377.7 275.8)"/><ellipse cx="443.5" cy="270.8" rx="0.6" ry="0.5" transform="rotate(161 443.5 270.8)"/><ellipse cx="351.1" cy="263.0" rx="0.5" ry="0.5" transform="rotate(13 351.1 263.0)"/><ellipse cx="372.5" cy="265.7" rx="0.4" ry="0.3" transform="rotate(4 372.5 265.7)"/><ellipse cx="363.7" cy="272.9" rx="0.6" ry="0.5" transform="rotate(110 363.7 272.9)"/><ellipse cx="404.9" cy="272.7" rx="0.7" ry="0.4" transform="rotate(32 404.9 272.7)"/><ellipse cx="347.7" cy="289.2" rx="0.4" ry="0.4" transform="rotate(63 347.7 289.2)"/></g>
<g fill="#36a410"><ellipse cx="473.7" cy="282.1" rx="0.6" ry="0.3" transform="rotate(96 473.7 282.1)"/><ellipse cx="472.4" cy="281.5" rx="0.4" ry="0.4" transform="rotate(147 472.4 281.5)"/><ellipse cx="485.0" cy="299.8" rx="0.6" ry="0.3" transform="rotate(11 485.0 299.8)"/><ellipse cx="477.4" cy="295.1" rx="0.6" ry="0.4" transform="rotate(54 477.4 295.1)"/><ellipse cx="480.9" cy="340.0" rx="0.7" ry="0.4" transform="rotate(176 480.9 340.0)"/><ellipse cx="466.3" cy="303.4" rx="0.7" ry="0.3" transform="rotate(88 466.3 303.4)"/><ellipse cx="487.0" cy="317.5" rx="0.6" ry="0.4" transform="rotate(151 487.0 317.5)"/><ellipse cx="487.3" cy="321.8" rx="0.8" ry="0.5" transform="rotate(51 487.3 321.8)"/><ellipse cx="466.7" cy="289.8" rx="0.5" ry="0.5" transform="rotate(15 466.7 289.8)"/><ellipse cx="478.2" cy="314.0" rx="0.7" ry="0.5" transform="rotate(156 478.2 314.0)"/><ellipse cx="472.0" cy="303.2" rx="0.5" ry="0.5" transform="rotate(172 472.0 303.2)"/><ellipse cx="467.4" cy="284.1" rx="0.4" ry="0.4" transform="rotate(87 467.4 284.1)"/><ellipse cx="483.2" cy="291.0" rx="0.3" ry="0.4" transform="rotate(66 483.2 291.0)"/><ellipse cx="486.9" cy="311.2" rx="0.6" ry="0.5" transform="rotate(10 486.9 311.2)"/></g>
<g fill="#36a410"><ellipse cx="512.3" cy="239.4" rx="0.5" ry="0.4" transform="rotate(35 512.3 239.4)"/><ellipse cx="492.9" cy="234.7" rx="0.8" ry="0.4" transform="rotate(20 492.9 234.7)"/><ellipse cx="482.4" cy="254.2" rx="0.5" ry="0.5" transform="rotate(61 482.4 254.2)"/><ellipse cx="514.9" cy="243.0" rx="0.6" ry="0.5" transform="rotate(105 514.9 243.0)"/><ellipse cx="522.8" cy="243.5" rx="0.4" ry="0.3" transform="rotate(95 522.8 243.5)"/><ellipse cx="525.9" cy="243.9" rx="0.7" ry="0.4" transform="rotate(44 525.9 243.9)"/><ellipse cx="492.9" cy="236.2" rx="0.5" ry="0.5" transform="rotate(160 492.9 236.2)"/><ellipse cx="488.2" cy="233.7" rx="0.4" ry="0.5" transform="rotate(175 488.2 233.7)"/><ellipse cx="518.7" cy="228.7" rx="0.4" ry="0.4" transform="rotate(42 518.7 228.7)"/><ellipse cx="500.3" cy="238.2" rx="0.5" ry="0.5" transform="rotate(52 500.3 238.2)"/><ellipse cx="484.6" cy="245.1" rx="0.5" ry="0.5" transform="rotate(91 484.6 245.1)"/><ellipse cx="486.4" cy="232.8" rx="0.6" ry="0.5" transform="rotate(63 486.4 232.8)"/><ellipse cx="510.5" cy="242.9" rx="0.5" ry="0.3" transform="rotate(22 510.5 242.9)"/><ellipse cx="485.7" cy="237.6" rx="0.7" ry="0.5" transform="rotate(85 485.7 237.6)"/></g>
<g fill="#36a410"><ellipse cx="401.3" cy="49.9" rx="0.4" ry="0.5" transform="rotate(1 401.3 49.9)"/><ellipse cx="367.6" cy="64.3" rx="0.6" ry="0.3" transform="rotate(68 367.6 64.3)"/><ellipse cx="422.5" cy="56.2" rx="0.7" ry="0.3" transform="rotate(43 422.5 56.2)"/><ellipse cx="370.3" cy="60.5" rx="0.8" ry="0.5" transform="rotate(139 370.3 60.5)"/><ellipse cx="394.3" cy="79.7" rx="0.4" ry="0.4" transform="rotate(121 394.3 79.7)"/><ellipse cx="424.4" cy="53.7" rx="0.3" ry="0.4" transform="rotate(38 424.4 53.7)"/><ellipse cx="385.3" cy="84.8" rx="0.4" ry="0.5" transform="rotate(158 385.3 84.8)"/><ellipse cx="370.4" cy="67.7" rx="0.4" ry="0.5" transform="rotate(161 370.4 67.7)"/><ellipse cx="367.9" cy="63.2" rx="0.3" ry="0.3" transform="rotate(89 367.9 63.2)"/><ellipse cx="395.6" cy="71.1" rx="0.3" ry="0.5" transform="rotate(31 395.6 71.1)"/><ellipse cx="381.4" cy="68.9" rx="0.3" ry="0.4" transform="rotate(121 381.4 68.9)"/><ellipse cx="412.5" cy="82.0" rx="0.3" ry="0.4" transform="rotate(156 412.5 82.0)"/><ellipse cx="412.0" cy="56.1" rx="0.5" ry="0.6" transform="rotate(103 412.0 56.1)"/><ellipse cx="389.5" cy="54.7" rx="0.4" ry="0.4" transform="rotate(58 389.5 54.7)"/><ellipse cx="368.3" cy="70.4" rx="0.4" ry="0.5" transform="rotate(5 368.3 70.4)"/><ellipse cx="429.3" cy="84.6" rx="0.5" ry="0.5" transform="rotate(45 429.3 84.6)"/><ellipse cx="425.5" cy="54.0" rx="0.4" ry="0.6" transform="rotate(72 425.5 54.0)"/><ellipse cx="393.4" cy="88.8" rx="0.5" ry="0.5" transform="rotate(31 393.4 88.8)"/></g>
<circle cx="381" cy="54.2" r="3.3" fill="#fff" stroke="#111" stroke-width="0.7"/><circle cx="381" cy="54.2" r="2.1" fill="#fff" stroke="#111" stroke-width="0.5"/><circle cx="381" cy="54.2" r="1.6" fill="#000"/>
<text x="388.6" y="57.4" font-size="9.3" font-weight="bold">TP</text>
<circle cx="319.1" cy="150.9" r="3.3" fill="#fff" stroke="#111" stroke-width="0.7"/><circle cx="319.1" cy="150.9" r="2.1" fill="#fff" stroke="#111" stroke-width="0.5"/><circle cx="319.1" cy="150.9" r="1.6" fill="#000"/>
<text x="323.6" y="154.1" font-size="9.3" font-weight="bold">TW</text>
<circle cx="336.4" cy="178.2" r="3.3" fill="#fff" stroke="#111" stroke-width="0.7"/><circle cx="336.4" cy="178.2" r="2.1" fill="#fff" stroke="#111" stroke-width="0.5"/><circle cx="336.4" cy="178.2" r="1.6" fill="#000"/>
<text x="343.6" y="181.4" font-size="9.3" font-weight="bold">KT2</text>
<circle cx="369.6" cy="199.6" r="3.3" fill="#fff" stroke="#111" stroke-width="0.7"/><circle cx="369.6" cy="199.6" r="2.1" fill="#fff" stroke="#111" stroke-width="0.5"/><circle cx="369.6" cy="199.6" r="1.6" fill="#000"/>
<text x="376.8" y="202.8" font-size="9.3" font-weight="bold">SSP</text>
<circle cx="408.6" cy="213.7" r="3.3" fill="#fff" stroke="#111" stroke-width="0.7"/><circle cx="408.6" cy="213.7" r="2.1" fill="#fff" stroke="#111" stroke-width="0.5"/><circle cx="408.6" cy="213.7" r="1.6" fill="#000"/>
<text x="415" y="216.9" font-size="9.3" font-weight="bold">KC</text>
<circle cx="387.4" cy="235.5" r="3.3" fill="#fff" stroke="#111" stroke-width="0.7"/><circle cx="387.4" cy="235.5" r="2.1" fill="#fff" stroke="#111" stroke-width="0.5"/><circle cx="387.4" cy="235.5" r="1.6" fill="#000"/>
<text x="394.1" y="238.7" font-size="9.3" font-weight="bold">YTM</text>
<circle cx="425" cy="189.2" r="3.3" fill="#fff" stroke="#111" stroke-width="0.7"/><circle cx="425" cy="189.2" r="2.1" fill="#fff" stroke="#111" stroke-width="0.5"/><circle cx="425" cy="189.2" r="1.6" fill="#000"/>
<text x="431.8" y="192.4" font-size="9.3" font-weight="bold">WTS</text>
<circle cx="456.7" cy="221" r="3.3" fill="#fff" stroke="#111" stroke-width="0.7"/><circle cx="456.7" cy="221" r="2.1" fill="#fff" stroke="#111" stroke-width="0.5"/><circle cx="456.7" cy="221" r="1.6" fill="#000"/>
<text x="463.6" y="224.2" font-size="9.3" font-weight="bold">KT</text>
<circle cx="494.9" cy="226.5" r="3.3" fill="#fff" stroke="#111" stroke-width="0.7"/><circle cx="494.9" cy="226.5" r="2.1" fill="#fff" stroke="#111" stroke-width="0.5"/><circle cx="494.9" cy="226.5" r="1.6" fill="#000"/>
<text x="501.8" y="229.7" font-size="9.3" font-weight="bold">SK</text>
<circle cx="360.5" cy="276" r="3.3" fill="#fff" stroke="#111" stroke-width="0.7"/><circle cx="360.5" cy="276" r="2.1" fill="#fff" stroke="#111" stroke-width="0.5"/><circle cx="360.5" cy="276" r="1.6" fill="#000"/>
<text x="367.7" y="279.2" font-size="9.3" font-weight="bold">CW</text>
<circle cx="399" cy="283.3" r="3.3" fill="#fff" stroke="#111" stroke-width="0.7"/><circle cx="399" cy="283.3" r="2.1" fill="#fff" stroke="#111" stroke-width="0.5"/><circle cx="399" cy="283.3" r="1.6" fill="#000"/>
<text x="405.9" y="286.5" font-size="9.3" font-weight="bold">WC</text>
<circle cx="390.1" cy="306" r="3.3" fill="#fff" stroke="#111" stroke-width="0.7"/><circle cx="390.1" cy="306" r="2.1" fill="#fff" stroke="#111" stroke-width="0.5"/><circle cx="390.1" cy="306" r="1.6" fill="#000"/>
<text x="396.8" y="309.2" font-size="9.3" font-weight="bold">S</text>
<circle cx="470.9" cy="287.8" r="3.3" fill="#fff" stroke="#111" stroke-width="0.7"/><circle cx="470.9" cy="287.8" r="2.1" fill="#fff" stroke="#111" stroke-width="0.5"/><circle cx="470.9" cy="287.8" r="1.6" fill="#000"/>
<text x="477.3" y="291.0" font-size="9.3" font-weight="bold">E</text>
<text x="523.1" y="24" font-size="10" text-anchor="middle">N</text>
<path d="M523.1,29.8 L532.8,58.2 L523.1,51.6 L513.2,58.2 Z" fill="#000"/>
<path d="M218.9,362.7 V369.1 H273.5 V362.7" fill="none" stroke="#333" stroke-width="0.9"/>
<text x="218.7" y="358.3" font-size="9" text-anchor="middle">0</text>
<text x="271.6" y="358.3" font-size="9">5 km</text>
</g>
<g id="connectors">
<path d="M121.5,33.5 L408,17.5" stroke="#222" stroke-width="0.7" fill="none"/>
<path d="M412.3,17.3 L406.8,15.2 L407.1,20 Z" fill="#000"/>
<path d="M128.9,125.3 L322.5,267.2" stroke="#222" stroke-width="0.7" fill="none"/>
<path d="M325.5,269.5 L319.8,268.3 L322.8,264.2 Z" fill="#000"/>
</g>
<g id="legend">
<text x="33.8" y="185.6" font-size="10.8" font-weight="bold">Legend</text>
<circle cx="45.4" cy="202.6" r="3.3" fill="#fff" stroke="#111" stroke-width="0.7"/><circle cx="45.4" cy="202.6" r="2.1" fill="#fff" stroke="#111" stroke-width="0.5"/><circle cx="45.4" cy="202.6" r="1.6" fill="#000"/>
<text x="62.6" y="205.6" font-size="9.3">District Name</text>
<rect x="34.4" y="215" width="22" height="10.4" fill="#fff" stroke="#9a9a9a" stroke-width="0.7"/>
<text x="62.6" y="223.9" font-size="9.3">District Boundary</text>
<rect x="34.4" y="233.6" width="22" height="10.4" fill="#fff" stroke="#dcdcdc" stroke-width="0.7"/>
<text x="62.6" y="242.2" font-size="9.3">Tertiary Planning Unit</text>
<rect x="34.6" y="251.4" width="22" height="10.6" fill="#36a410"/>
<text x="62" y="259.6" font-size="9.3">Open Space</text>
<rect x="34.4" y="270.3" width="22" height="10.6" fill="#cfeff9" stroke="#b0b0b0" stroke-width="0.6"/>
<text x="62" y="278.9" font-size="9.3">Hong Kong Island</text>
<rect x="34.4" y="288.6" width="22" height="10.6" fill="#fcaef8" stroke="#b0b0b0" stroke-width="0.6"/>
<text x="62" y="296.8" font-size="9.3">Kowloon</text>
<rect x="34.4" y="306.7" width="22" height="10.6" fill="#f6fab0" stroke="#b0b0b0" stroke-width="0.6"/>
<text x="62" y="314.6" font-size="9.3">New Territories</text>
<path d="M34.7,329 H57" stroke="#111" stroke-width="2" stroke-dasharray="6 2" fill="none"/>
<text x="60.6" y="332.6" font-size="9.3">Open space cover</text>
</g>
<g id="chart">
<path d="M58.1,394.30 H502.1" stroke="#e6e6e6" stroke-width="0.8"/>
<text x="50" y="397.3" font-size="9" text-anchor="end" fill="#333">2.0</text>
<path d="M58.1,409.22 H502.1" stroke="#e6e6e6" stroke-width="0.8"/>
<text x="50" y="412.2" font-size="9" text-anchor="end" fill="#333">1.8</text>
<path d="M58.1,424.14 H502.1" stroke="#e6e6e6" stroke-width="0.8"/>
<text x="50" y="427.1" font-size="9" text-anchor="end" fill="#333">1.6</text>
<path d="M58.1,439.06 H502.1" stroke="#e6e6e6" stroke-width="0.8"/>
<text x="50" y="442.1" font-size="9" text-anchor="end" fill="#333">1.4</text>
<path d="M58.1,453.98 H502.1" stroke="#e6e6e6" stroke-width="0.8"/>
<text x="50" y="457.0" font-size="9" text-anchor="end" fill="#333">1.2</text>
<path d="M58.1,468.90 H502.1" stroke="#e6e6e6" stroke-width="0.8"/>
<text x="50" y="471.9" font-size="9" text-anchor="end" fill="#333">1.0</text>
<path d="M58.1,483.82 H502.1" stroke="#e6e6e6" stroke-width="0.8"/>
<text x="50" y="486.8" font-size="9" text-anchor="end" fill="#333">0.8</text>
<path d="M58.1,498.74 H502.1" stroke="#e6e6e6" stroke-width="0.8"/>
<text x="50" y="501.7" font-size="9" text-anchor="end" fill="#333">0.6</text>
<path d="M58.1,513.66 H502.1" stroke="#e6e6e6" stroke-width="0.8"/>
<text x="50" y="516.7" font-size="9" text-anchor="end" fill="#333">0.4</text>
<path d="M58.1,528.58 H502.1" stroke="#e6e6e6" stroke-width="0.8"/>
<text x="50" y="531.6" font-size="9" text-anchor="end" fill="#333">0.2</text>
<path d="M58.1,543.50 H502.1" stroke="#d9d9d9" stroke-width="0.8"/>
<text x="50" y="546.5" font-size="9" text-anchor="end" fill="#333">0</text>
<text x="511" y="546.5" font-size="9" fill="#333">0</text>
<text x="511" y="525.2" font-size="9" fill="#333">2</text>
<text x="511" y="503.9" font-size="9" fill="#333">4</text>
<text x="511" y="482.6" font-size="9" fill="#333">6</text>
<text x="511" y="461.2" font-size="9" fill="#333">8</text>
<text x="511" y="439.9" font-size="9" fill="#333">10</text>
<text x="511" y="418.6" font-size="9" fill="#333">12</text>
<text x="511" y="397.3" font-size="9" fill="#333">14</text>
<rect x="68.33" y="492.77" width="13.7" height="50.73" fill="#c9eef9"/>
<rect x="102.48" y="490.31" width="13.7" height="53.19" fill="#c9eef9"/>
<rect x="136.63" y="407.73" width="13.7" height="135.77" fill="#c9eef9"/>
<rect x="170.79" y="467.63" width="13.7" height="75.87" fill="#c9eef9"/>
<rect x="204.94" y="453.08" width="13.7" height="90.42" fill="#fcb0f8"/>
<rect x="239.10" y="482.40" width="13.7" height="61.10" fill="#fcb0f8"/>
<rect x="273.25" y="483.22" width="13.7" height="60.28" fill="#fcb0f8"/>
<rect x="307.40" y="461.81" width="13.7" height="81.69" fill="#fcb0f8"/>
<rect x="341.56" y="473.23" width="13.7" height="70.27" fill="#fcb0f8"/>
<rect x="375.71" y="497.40" width="13.7" height="46.10" fill="#f4f9b0"/>
<rect x="409.87" y="464.57" width="13.7" height="78.93" fill="#f4f9b0"/>
<rect x="444.02" y="437.79" width="13.7" height="105.71" fill="#f4f9b0"/>
<rect x="478.17" y="497.40" width="13.7" height="46.10" fill="#f4f9b0"/>
<path d="M75.1769,486.7 L109.331,466.4 L143.485,480.4 L177.638,460 L211.792,419.3 L245.946,419.8 L280.1,451 L314.254,418.6 L348.408,456.7 L382.562,488 L416.715,494.4 L450.869,485.7 L485.023,505.8" fill="none" stroke="#111" stroke-width="2" stroke-dasharray="6 2.2" stroke-linejoin="round"/>
<text transform="translate(77.4,555) rotate(-45)" font-size="9.6" text-anchor="end" fill="#222">Central &amp; Western (CW)</text>
<text transform="translate(111.5,555) rotate(-45)" font-size="9.6" text-anchor="end" fill="#222">Wan Chai (WC)</text>
<text transform="translate(145.7,555) rotate(-45)" font-size="9.6" text-anchor="end" fill="#222">Southern (S)</text>
<text transform="translate(179.8,555) rotate(-45)" font-size="9.6" text-anchor="end" fill="#222">Eastern (E)</text>
<text transform="translate(214.0,555) rotate(-45)" font-size="9.6" text-anchor="end" fill="#222">Kowloon City (KC)</text>
<text transform="translate(248.1,555) rotate(-45)" font-size="9.6" text-anchor="end" fill="#222">Yau Tsim Mong (YTM)</text>
<text transform="translate(282.3,555) rotate(-45)" font-size="9.6" text-anchor="end" fill="#222">Sham Shui Po (SSP)</text>
<text transform="translate(316.5,555) rotate(-45)" font-size="9.6" text-anchor="end" fill="#222">Wong Tai Sin (WTS)</text>
<text transform="translate(350.6,555) rotate(-45)" font-size="9.6" text-anchor="end" fill="#222">Kwun Tong (KT)</text>
<text transform="translate(384.8,555) rotate(-45)" font-size="9.6" text-anchor="end" fill="#222">Tsuen Wan (TW)</text>
<text transform="translate(418.9,555) rotate(-45)" font-size="9.6" text-anchor="end" fill="#222">Kwai Tsing (KT2)</text>
<text transform="translate(453.1,555) rotate(-45)" font-size="9.6" text-anchor="end" fill="#222">Tai Po (TP)</text>
<text transform="translate(487.2,555) rotate(-45)" font-size="9.6" text-anchor="end" fill="#222">Sai Kung (SK)</text>
<text transform="translate(25.2,469) rotate(-90)" font-size="10.7" text-anchor="middle" fill="#222">Open space area (km²)</text>
<text transform="translate(536.6,468.3) rotate(-90)" font-size="10.7" text-anchor="middle" fill="#222">Open space cover (%)</text>
</g>
</svg>
</body></html>
